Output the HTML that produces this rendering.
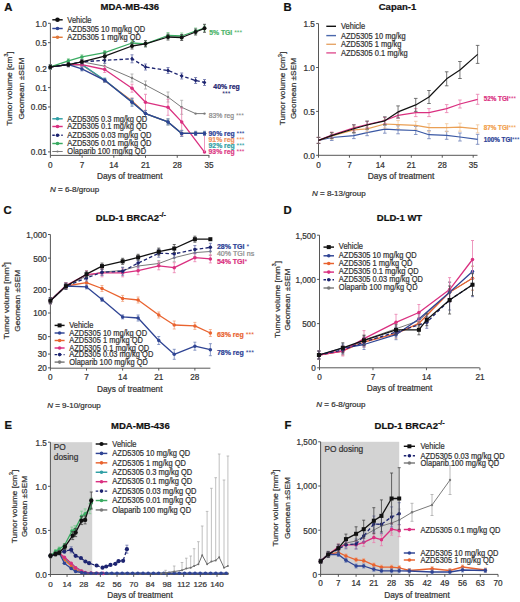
<!DOCTYPE html><html><head><meta charset="utf-8"><style>html,body{margin:0;padding:0;background:#fff;}svg{display:block;}</style></head><body>
<svg width="520" height="602" viewBox="0 0 520 602" font-family='"Liberation Sans", sans-serif'>
<rect width="520" height="602" fill="#fff"/>
<text x="4.20" y="11.10" font-size="11.3" text-anchor="start" font-weight="bold" fill="#111" stroke="#111" stroke-width="0.22" >A</text>
<text x="283.50" y="10.80" font-size="11.3" text-anchor="start" font-weight="bold" fill="#111" stroke="#111" stroke-width="0.22" >B</text>
<text x="3.50" y="214.40" font-size="11.3" text-anchor="start" font-weight="bold" fill="#111" stroke="#111" stroke-width="0.22" >C</text>
<text x="283.50" y="214.40" font-size="11.3" text-anchor="start" font-weight="bold" fill="#111" stroke="#111" stroke-width="0.22" >D</text>
<text x="4.50" y="428.50" font-size="11.3" text-anchor="start" font-weight="bold" fill="#111" stroke="#111" stroke-width="0.22" >E</text>
<text x="284.50" y="428.50" font-size="11.3" text-anchor="start" font-weight="bold" fill="#111" stroke="#111" stroke-width="0.22" >F</text>
<text x="129.80" y="10.40" font-size="9.5" text-anchor="middle" font-weight="bold" fill="#111" stroke="#111" stroke-width="0.22" >MDA-MB-436</text>
<text x="397.50" y="10.40" font-size="9.5" text-anchor="middle" font-weight="bold" fill="#111" stroke="#111" stroke-width="0.22" >Capan-1</text>
<text x="95.8" y="221.2" font-size="9.5" font-weight="bold" fill="#111" stroke="#111" stroke-width="0.22">DLD-1 BRCA2<tspan font-size="7.2" dy="-4.2">-/-</tspan></text>
<text x="399.50" y="221.20" font-size="9.5" text-anchor="middle" font-weight="bold" fill="#111" stroke="#111" stroke-width="0.22" >DLD-1 WT</text>
<text x="140.40" y="428.60" font-size="9.5" text-anchor="middle" font-weight="bold" fill="#111" stroke="#111" stroke-width="0.22" >MDA-MB-436</text>
<text x="374.6" y="428.8" font-size="9.5" font-weight="bold" fill="#111" stroke="#111" stroke-width="0.22">DLD-1 BRCA2<tspan font-size="7.2" dy="-4.2">-/-</tspan></text>
<text transform="translate(12.00,88.50) rotate(-90) scale(1.06,1)" font-size="7.925" text-anchor="middle" fill="#333" stroke="#333" stroke-width="0.22">Tumor volume [cm<tspan font-size="4.91" dy="-3.6">3</tspan><tspan dy="3.6">]</tspan></text>
<text transform="translate(23.50,88.50) rotate(-90) scale(1.06,1)" font-size="7.925" text-anchor="middle" fill="#333" stroke="#333" stroke-width="0.22">Geomean ±SEM</text>
<line x1="50.40" y1="23.30" x2="50.40" y2="155.40" stroke="#444444" stroke-width="0.9" />
<line x1="48.00" y1="23.30" x2="50.40" y2="23.30" stroke="#444444" stroke-width="0.9" />
<text x="46.80" y="26.70" font-size="8.2" text-anchor="end" font-weight="normal" fill="#333" stroke="#333" stroke-width="0.22" >1.0</text>
<line x1="48.00" y1="42.66" x2="50.40" y2="42.66" stroke="#444444" stroke-width="0.9" />
<text x="46.80" y="46.06" font-size="8.2" text-anchor="end" font-weight="normal" fill="#333" stroke="#333" stroke-width="0.22" >0.5</text>
<line x1="48.00" y1="68.24" x2="50.40" y2="68.24" stroke="#444444" stroke-width="0.9" />
<text x="46.80" y="71.64" font-size="8.2" text-anchor="end" font-weight="normal" fill="#333" stroke="#333" stroke-width="0.22" >0.2</text>
<line x1="48.00" y1="87.60" x2="50.40" y2="87.60" stroke="#444444" stroke-width="0.9" />
<text x="46.80" y="91.00" font-size="8.2" text-anchor="end" font-weight="normal" fill="#333" stroke="#333" stroke-width="0.22" >0.1</text>
<line x1="48.00" y1="106.96" x2="50.40" y2="106.96" stroke="#444444" stroke-width="0.9" />
<text x="46.80" y="110.36" font-size="8.2" text-anchor="end" font-weight="normal" fill="#333" stroke="#333" stroke-width="0.22" >0.05</text>
<line x1="48.00" y1="151.90" x2="50.40" y2="151.90" stroke="#444444" stroke-width="0.9" />
<text x="46.80" y="155.30" font-size="8.2" text-anchor="end" font-weight="normal" fill="#333" stroke="#333" stroke-width="0.22" >0.01</text>
<line x1="50.40" y1="155.40" x2="209.40" y2="155.40" stroke="#444444" stroke-width="0.9" />
<line x1="50.40" y1="155.40" x2="50.40" y2="157.80" stroke="#444444" stroke-width="0.9" />
<text x="50.40" y="167.80" font-size="8.2" text-anchor="middle" font-weight="normal" fill="#333" stroke="#333" stroke-width="0.22" >0</text>
<line x1="82.11" y1="155.40" x2="82.11" y2="157.80" stroke="#444444" stroke-width="0.9" />
<text x="82.11" y="167.80" font-size="8.2" text-anchor="middle" font-weight="normal" fill="#333" stroke="#333" stroke-width="0.22" >7</text>
<line x1="113.82" y1="155.40" x2="113.82" y2="157.80" stroke="#444444" stroke-width="0.9" />
<text x="113.82" y="167.80" font-size="8.2" text-anchor="middle" font-weight="normal" fill="#333" stroke="#333" stroke-width="0.22" >14</text>
<line x1="145.53" y1="155.40" x2="145.53" y2="157.80" stroke="#444444" stroke-width="0.9" />
<text x="145.53" y="167.80" font-size="8.2" text-anchor="middle" font-weight="normal" fill="#333" stroke="#333" stroke-width="0.22" >21</text>
<line x1="177.24" y1="155.40" x2="177.24" y2="157.80" stroke="#444444" stroke-width="0.9" />
<text x="177.24" y="167.80" font-size="8.2" text-anchor="middle" font-weight="normal" fill="#333" stroke="#333" stroke-width="0.22" >28</text>
<line x1="208.95" y1="155.40" x2="208.95" y2="157.80" stroke="#444444" stroke-width="0.9" />
<text x="208.95" y="167.80" font-size="8.2" text-anchor="middle" font-weight="normal" fill="#333" stroke="#333" stroke-width="0.22" >35</text>
<text x="129.70" y="178.80" font-size="8.3" text-anchor="middle" font-weight="normal" fill="#333" stroke="#333" stroke-width="0.22" >Days of treatment</text>
<text x="50" y="192" font-size="8" fill="#333" stroke="#333" stroke-width="0.22"><tspan font-style="italic">N</tspan> = 6-8/group</text>
<path d="M50.40 64.90 V68.90 M48.90 64.90 H51.90 M48.90 68.90 H51.90" stroke="#f3a27c" stroke-width="0.8" fill="none"/>
<path d="M68.40 62.60 V66.60 M66.90 62.60 H69.90 M66.90 66.60 H69.90" stroke="#f3a27c" stroke-width="0.8" fill="none"/>
<path d="M81.90 62.60 V66.60 M80.40 62.60 H83.40 M80.40 66.60 H83.40" stroke="#f3a27c" stroke-width="0.8" fill="none"/>
<path d="M104.70 78.50 V82.50 M103.20 78.50 H106.20 M103.20 82.50 H106.20" stroke="#f3a27c" stroke-width="0.8" fill="none"/>
<path d="M132.00 98.00 V104.00 M130.50 98.00 H133.50 M130.50 104.00 H133.50" stroke="#f3a27c" stroke-width="0.8" fill="none"/>
<path d="M145.50 110.60 V116.60 M144.00 110.60 H147.00 M144.00 116.60 H147.00" stroke="#f3a27c" stroke-width="0.8" fill="none"/>
<path d="M168.00 118.90 V124.90 M166.50 118.90 H169.50 M166.50 124.90 H169.50" stroke="#f3a27c" stroke-width="0.8" fill="none"/>
<path d="M181.70 130.40 V136.40 M180.20 130.40 H183.20 M180.20 136.40 H183.20" stroke="#f3a27c" stroke-width="0.8" fill="none"/>
<path d="M195.60 131.40 V135.40 M194.10 131.40 H197.10 M194.10 135.40 H197.10" stroke="#f3a27c" stroke-width="0.8" fill="none"/>
<path d="M204.50 131.40 V135.40 M203.00 131.40 H206.00 M203.00 135.40 H206.00" stroke="#f3a27c" stroke-width="0.8" fill="none"/>
<polyline points="50.40,66.90 68.40,64.60 81.90,64.60 104.70,80.50 132.00,101.00 145.50,113.60 168.00,121.90 181.70,133.40 195.60,133.40 204.50,133.40" fill="none" stroke="#e9632f" stroke-width="1.3" stroke-linejoin="round" />
<circle cx="50.40" cy="66.90" r="1.75" fill="#e9632f"/>
<circle cx="68.40" cy="64.60" r="1.75" fill="#e9632f"/>
<circle cx="81.90" cy="64.60" r="1.75" fill="#e9632f"/>
<circle cx="104.70" cy="80.50" r="1.75" fill="#e9632f"/>
<circle cx="132.00" cy="101.00" r="1.75" fill="#e9632f"/>
<circle cx="145.50" cy="113.60" r="1.75" fill="#e9632f"/>
<circle cx="168.00" cy="121.90" r="1.75" fill="#e9632f"/>
<circle cx="181.70" cy="133.40" r="1.75" fill="#e9632f"/>
<circle cx="195.60" cy="133.40" r="1.75" fill="#e9632f"/>
<circle cx="204.50" cy="133.40" r="1.75" fill="#e9632f"/>
<path d="M50.40 64.90 V68.90 M48.90 64.90 H51.90 M48.90 68.90 H51.90" stroke="#7cc6cc" stroke-width="0.8" fill="none"/>
<path d="M68.40 62.60 V66.60 M66.90 62.60 H69.90 M66.90 66.60 H69.90" stroke="#7cc6cc" stroke-width="0.8" fill="none"/>
<path d="M81.90 62.60 V66.60 M80.40 62.60 H83.40 M80.40 66.60 H83.40" stroke="#7cc6cc" stroke-width="0.8" fill="none"/>
<path d="M104.70 78.00 V82.00 M103.20 78.00 H106.20 M103.20 82.00 H106.20" stroke="#7cc6cc" stroke-width="0.8" fill="none"/>
<path d="M132.00 99.00 V105.00 M130.50 99.00 H133.50 M130.50 105.00 H133.50" stroke="#7cc6cc" stroke-width="0.8" fill="none"/>
<path d="M145.50 110.60 V116.60 M144.00 110.60 H147.00 M144.00 116.60 H147.00" stroke="#7cc6cc" stroke-width="0.8" fill="none"/>
<path d="M168.00 118.90 V124.90 M166.50 118.90 H169.50 M166.50 124.90 H169.50" stroke="#7cc6cc" stroke-width="0.8" fill="none"/>
<path d="M181.70 130.40 V136.40 M180.20 130.40 H183.20 M180.20 136.40 H183.20" stroke="#7cc6cc" stroke-width="0.8" fill="none"/>
<path d="M195.60 131.40 V135.40 M194.10 131.40 H197.10 M194.10 135.40 H197.10" stroke="#7cc6cc" stroke-width="0.8" fill="none"/>
<path d="M204.50 131.40 V135.40 M203.00 131.40 H206.00 M203.00 135.40 H206.00" stroke="#7cc6cc" stroke-width="0.8" fill="none"/>
<polyline points="50.40,66.90 68.40,64.60 81.90,64.60 104.70,80.00 132.00,102.00 145.50,113.60 168.00,121.90 181.70,133.40 195.60,133.40 204.50,133.40" fill="none" stroke="#2f9fa5" stroke-width="1.3" stroke-linejoin="round" />
<circle cx="50.40" cy="66.90" r="1.75" fill="#2f9fa5"/>
<circle cx="68.40" cy="64.60" r="1.75" fill="#2f9fa5"/>
<circle cx="81.90" cy="64.60" r="1.75" fill="#2f9fa5"/>
<circle cx="104.70" cy="80.00" r="1.75" fill="#2f9fa5"/>
<circle cx="132.00" cy="102.00" r="1.75" fill="#2f9fa5"/>
<circle cx="145.50" cy="113.60" r="1.75" fill="#2f9fa5"/>
<circle cx="168.00" cy="121.90" r="1.75" fill="#2f9fa5"/>
<circle cx="181.70" cy="133.40" r="1.75" fill="#2f9fa5"/>
<circle cx="195.60" cy="133.40" r="1.75" fill="#2f9fa5"/>
<circle cx="204.50" cy="133.40" r="1.75" fill="#2f9fa5"/>
<path d="M50.40 64.90 V68.90 M48.90 64.90 H51.90 M48.90 68.90 H51.90" stroke="#a8a8a8" stroke-width="0.8" fill="none"/>
<path d="M68.40 62.60 V66.60 M66.90 62.60 H69.90 M66.90 66.60 H69.90" stroke="#a8a8a8" stroke-width="0.8" fill="none"/>
<path d="M81.90 59.80 V63.80 M80.40 59.80 H83.40 M80.40 63.80 H83.40" stroke="#a8a8a8" stroke-width="0.8" fill="none"/>
<path d="M104.70 63.20 V69.20 M103.20 63.20 H106.20 M103.20 69.20 H106.20" stroke="#a8a8a8" stroke-width="0.8" fill="none"/>
<path d="M132.00 74.00 V82.00 M130.50 74.00 H133.50 M130.50 82.00 H133.50" stroke="#a8a8a8" stroke-width="0.8" fill="none"/>
<path d="M145.50 81.00 V89.00 M144.00 81.00 H147.00 M144.00 89.00 H147.00" stroke="#a8a8a8" stroke-width="0.8" fill="none"/>
<path d="M168.00 92.00 V102.00 M166.50 92.00 H169.50 M166.50 102.00 H169.50" stroke="#a8a8a8" stroke-width="0.8" fill="none"/>
<path d="M181.70 100.30 V114.30 M180.20 100.30 H183.20 M180.20 114.30 H183.20" stroke="#a8a8a8" stroke-width="0.8" fill="none"/>
<polyline points="50.40,66.90 68.40,64.60 81.90,61.80 104.70,66.20 132.00,78.00 145.50,85.00 168.00,97.00 181.70,107.30 195.60,113.60 204.50,113.60" fill="none" stroke="#7a7a7a" stroke-width="1.0" stroke-linejoin="round" />
<circle cx="50.40" cy="66.90" r="1.2" fill="#7a7a7a"/>
<circle cx="68.40" cy="64.60" r="1.2" fill="#7a7a7a"/>
<circle cx="81.90" cy="61.80" r="1.2" fill="#7a7a7a"/>
<circle cx="104.70" cy="66.20" r="1.2" fill="#7a7a7a"/>
<circle cx="132.00" cy="78.00" r="1.2" fill="#7a7a7a"/>
<circle cx="145.50" cy="85.00" r="1.2" fill="#7a7a7a"/>
<circle cx="168.00" cy="97.00" r="1.2" fill="#7a7a7a"/>
<circle cx="181.70" cy="107.30" r="1.2" fill="#7a7a7a"/>
<circle cx="195.60" cy="113.60" r="1.2" fill="#7a7a7a"/>
<circle cx="204.50" cy="113.60" r="1.2" fill="#7a7a7a"/>
<path d="M50.40 64.90 V68.90 M48.90 64.90 H51.90 M48.90 68.90 H51.90" stroke="#ea7fae" stroke-width="0.8" fill="none"/>
<path d="M68.40 62.60 V66.60 M66.90 62.60 H69.90 M66.90 66.60 H69.90" stroke="#ea7fae" stroke-width="0.8" fill="none"/>
<path d="M81.90 62.60 V66.60 M80.40 62.60 H83.40 M80.40 66.60 H83.40" stroke="#ea7fae" stroke-width="0.8" fill="none"/>
<path d="M104.70 66.50 V72.50 M103.20 66.50 H106.20 M103.20 72.50 H106.20" stroke="#ea7fae" stroke-width="0.8" fill="none"/>
<path d="M132.00 84.20 V92.20 M130.50 84.20 H133.50 M130.50 92.20 H133.50" stroke="#ea7fae" stroke-width="0.8" fill="none"/>
<path d="M145.50 94.30 V110.30 M144.00 94.30 H147.00 M144.00 110.30 H147.00" stroke="#ea7fae" stroke-width="0.8" fill="none"/>
<path d="M168.00 99.30 V115.30 M166.50 99.30 H169.50 M166.50 115.30 H169.50" stroke="#ea7fae" stroke-width="0.8" fill="none"/>
<path d="M181.70 107.90 V135.90 M180.20 107.90 H183.20 M180.20 135.90 H183.20" stroke="#ea7fae" stroke-width="0.8" fill="none"/>
<polyline points="50.40,66.90 68.40,64.60 81.90,64.60 104.70,69.50 132.00,88.20 145.50,102.30 168.00,107.30 181.70,121.90 204.50,152.10" fill="none" stroke="#da3080" stroke-width="1.3" stroke-linejoin="round" />
<circle cx="50.40" cy="66.90" r="1.75" fill="#da3080"/>
<circle cx="68.40" cy="64.60" r="1.75" fill="#da3080"/>
<circle cx="81.90" cy="64.60" r="1.75" fill="#da3080"/>
<circle cx="104.70" cy="69.50" r="1.75" fill="#da3080"/>
<circle cx="132.00" cy="88.20" r="1.75" fill="#da3080"/>
<circle cx="145.50" cy="102.30" r="1.75" fill="#da3080"/>
<circle cx="168.00" cy="107.30" r="1.75" fill="#da3080"/>
<circle cx="181.70" cy="121.90" r="1.75" fill="#da3080"/>
<circle cx="204.50" cy="152.10" r="1.75" fill="#da3080"/>
<path d="M204.5 152.1 V133.4" stroke="#ea7fae" stroke-width="0.8"/>
<path d="M50.40 64.90 V68.90 M48.90 64.90 H51.90 M48.90 68.90 H51.90" stroke="#6d80b8" stroke-width="0.8" fill="none"/>
<path d="M68.40 62.60 V66.60 M66.90 62.60 H69.90 M66.90 66.60 H69.90" stroke="#6d80b8" stroke-width="0.8" fill="none"/>
<path d="M81.90 66.90 V70.90 M80.40 66.90 H83.40 M80.40 70.90 H83.40" stroke="#6d80b8" stroke-width="0.8" fill="none"/>
<path d="M104.70 78.30 V82.30 M103.20 78.30 H106.20 M103.20 82.30 H106.20" stroke="#6d80b8" stroke-width="0.8" fill="none"/>
<path d="M132.00 98.30 V106.30 M130.50 98.30 H133.50 M130.50 106.30 H133.50" stroke="#6d80b8" stroke-width="0.8" fill="none"/>
<path d="M145.50 110.60 V116.60 M144.00 110.60 H147.00 M144.00 116.60 H147.00" stroke="#6d80b8" stroke-width="0.8" fill="none"/>
<path d="M168.00 118.90 V124.90 M166.50 118.90 H169.50 M166.50 124.90 H169.50" stroke="#6d80b8" stroke-width="0.8" fill="none"/>
<path d="M181.70 130.40 V136.40 M180.20 130.40 H183.20 M180.20 136.40 H183.20" stroke="#6d80b8" stroke-width="0.8" fill="none"/>
<path d="M195.60 131.40 V135.40 M194.10 131.40 H197.10 M194.10 135.40 H197.10" stroke="#6d80b8" stroke-width="0.8" fill="none"/>
<path d="M204.50 131.40 V135.40 M203.00 131.40 H206.00 M203.00 135.40 H206.00" stroke="#6d80b8" stroke-width="0.8" fill="none"/>
<polyline points="50.40,66.90 68.40,64.60 81.90,68.90 104.70,80.30 132.00,102.30 145.50,113.60 168.00,121.90 181.70,133.40 195.60,133.40 204.50,133.40" fill="none" stroke="#2f4494" stroke-width="1.3" stroke-linejoin="round" />
<circle cx="50.40" cy="66.90" r="1.75" fill="#2f4494"/>
<circle cx="68.40" cy="64.60" r="1.75" fill="#2f4494"/>
<circle cx="81.90" cy="68.90" r="1.75" fill="#2f4494"/>
<circle cx="104.70" cy="80.30" r="1.75" fill="#2f4494"/>
<circle cx="132.00" cy="102.30" r="1.75" fill="#2f4494"/>
<circle cx="145.50" cy="113.60" r="1.75" fill="#2f4494"/>
<circle cx="168.00" cy="121.90" r="1.75" fill="#2f4494"/>
<circle cx="181.70" cy="133.40" r="1.75" fill="#2f4494"/>
<circle cx="195.60" cy="133.40" r="1.75" fill="#2f4494"/>
<circle cx="204.50" cy="133.40" r="1.75" fill="#2f4494"/>
<path d="M50.40 64.90 V68.90 M48.90 64.90 H51.90 M48.90 68.90 H51.90" stroke="#6870a8" stroke-width="0.8" fill="none"/>
<path d="M68.40 62.60 V66.60 M66.90 62.60 H69.90 M66.90 66.60 H69.90" stroke="#6870a8" stroke-width="0.8" fill="none"/>
<path d="M81.90 59.80 V63.80 M80.40 59.80 H83.40 M80.40 63.80 H83.40" stroke="#6870a8" stroke-width="0.8" fill="none"/>
<path d="M104.70 57.30 V63.30 M103.20 57.30 H106.20 M103.20 63.30 H106.20" stroke="#6870a8" stroke-width="0.8" fill="none"/>
<path d="M132.00 54.80 V62.80 M130.50 54.80 H133.50 M130.50 62.80 H133.50" stroke="#6870a8" stroke-width="0.8" fill="none"/>
<path d="M145.50 64.00 V70.00 M144.00 64.00 H147.00 M144.00 70.00 H147.00" stroke="#6870a8" stroke-width="0.8" fill="none"/>
<path d="M168.00 67.50 V73.50 M166.50 67.50 H169.50 M166.50 73.50 H169.50" stroke="#6870a8" stroke-width="0.8" fill="none"/>
<path d="M181.70 73.00 V79.00 M180.20 73.00 H183.20 M180.20 79.00 H183.20" stroke="#6870a8" stroke-width="0.8" fill="none"/>
<path d="M195.60 77.50 V83.50 M194.10 77.50 H197.10 M194.10 83.50 H197.10" stroke="#6870a8" stroke-width="0.8" fill="none"/>
<path d="M204.50 79.50 V85.50 M203.00 79.50 H206.00 M203.00 85.50 H206.00" stroke="#6870a8" stroke-width="0.8" fill="none"/>
<polyline points="50.40,66.90 68.40,64.60 81.90,61.80 104.70,60.30 132.00,58.80 145.50,67.00 168.00,70.50 181.70,76.00 195.60,80.50 204.50,82.50" fill="none" stroke="#1d2470" stroke-width="1.3" stroke-linejoin="round" stroke-dasharray="3.5,2.3"/>
<path d="M50.40 64.56 L52.20 66.90 L50.40 69.24 L48.60 66.90Z" fill="#1d2470"/>
<path d="M68.40 62.26 L70.20 64.60 L68.40 66.94 L66.60 64.60Z" fill="#1d2470"/>
<path d="M81.90 59.46 L83.70 61.80 L81.90 64.14 L80.10 61.80Z" fill="#1d2470"/>
<path d="M104.70 57.96 L106.50 60.30 L104.70 62.64 L102.90 60.30Z" fill="#1d2470"/>
<path d="M132.00 56.46 L133.80 58.80 L132.00 61.14 L130.20 58.80Z" fill="#1d2470"/>
<path d="M145.50 64.66 L147.30 67.00 L145.50 69.34 L143.70 67.00Z" fill="#1d2470"/>
<path d="M168.00 68.16 L169.80 70.50 L168.00 72.84 L166.20 70.50Z" fill="#1d2470"/>
<path d="M181.70 73.66 L183.50 76.00 L181.70 78.34 L179.90 76.00Z" fill="#1d2470"/>
<path d="M195.60 78.16 L197.40 80.50 L195.60 82.84 L193.80 80.50Z" fill="#1d2470"/>
<path d="M204.50 80.16 L206.30 82.50 L204.50 84.84 L202.70 82.50Z" fill="#1d2470"/>
<path d="M50.40 64.90 V68.90 M48.90 64.90 H51.90 M48.90 68.90 H51.90" stroke="#7ccb8f" stroke-width="0.8" fill="none"/>
<path d="M68.40 58.80 V62.80 M66.90 58.80 H69.90 M66.90 62.80 H69.90" stroke="#7ccb8f" stroke-width="0.8" fill="none"/>
<path d="M81.90 54.90 V58.90 M80.40 54.90 H83.40 M80.40 58.90 H83.40" stroke="#7ccb8f" stroke-width="0.8" fill="none"/>
<path d="M104.70 50.60 V54.60 M103.20 50.60 H106.20 M103.20 54.60 H106.20" stroke="#7ccb8f" stroke-width="0.8" fill="none"/>
<path d="M132.00 40.00 V46.00 M130.50 40.00 H133.50 M130.50 46.00 H133.50" stroke="#7ccb8f" stroke-width="0.8" fill="none"/>
<path d="M145.50 40.80 V46.80 M144.00 40.80 H147.00 M144.00 46.80 H147.00" stroke="#7ccb8f" stroke-width="0.8" fill="none"/>
<path d="M168.00 32.50 V38.50 M166.50 32.50 H169.50 M166.50 38.50 H169.50" stroke="#7ccb8f" stroke-width="0.8" fill="none"/>
<path d="M181.70 33.00 V39.00 M180.20 33.00 H183.20 M180.20 39.00 H183.20" stroke="#7ccb8f" stroke-width="0.8" fill="none"/>
<path d="M195.60 28.00 V34.00 M194.10 28.00 H197.10 M194.10 34.00 H197.10" stroke="#7ccb8f" stroke-width="0.8" fill="none"/>
<path d="M204.50 25.00 V31.00 M203.00 25.00 H206.00 M203.00 31.00 H206.00" stroke="#7ccb8f" stroke-width="0.8" fill="none"/>
<polyline points="50.40,66.90 68.40,60.80 81.90,56.90 104.70,52.60 132.00,43.00 145.50,43.80 168.00,35.50 181.70,36.00 195.60,31.00 204.50,28.00" fill="none" stroke="#3aab62" stroke-width="1.3" stroke-linejoin="round" />
<circle cx="50.40" cy="66.90" r="1.75" fill="#3aab62"/>
<circle cx="68.40" cy="60.80" r="1.75" fill="#3aab62"/>
<circle cx="81.90" cy="56.90" r="1.75" fill="#3aab62"/>
<circle cx="104.70" cy="52.60" r="1.75" fill="#3aab62"/>
<circle cx="132.00" cy="43.00" r="1.75" fill="#3aab62"/>
<circle cx="145.50" cy="43.80" r="1.75" fill="#3aab62"/>
<circle cx="168.00" cy="35.50" r="1.75" fill="#3aab62"/>
<circle cx="181.70" cy="36.00" r="1.75" fill="#3aab62"/>
<circle cx="195.60" cy="31.00" r="1.75" fill="#3aab62"/>
<circle cx="204.50" cy="28.00" r="1.75" fill="#3aab62"/>
<path d="M50.40 64.90 V68.90 M48.90 64.90 H51.90 M48.90 68.90 H51.90" stroke="#444444" stroke-width="0.8" fill="none"/>
<path d="M68.40 62.60 V66.60 M66.90 62.60 H69.90 M66.90 66.60 H69.90" stroke="#444444" stroke-width="0.8" fill="none"/>
<path d="M81.90 59.80 V63.80 M80.40 59.80 H83.40 M80.40 63.80 H83.40" stroke="#444444" stroke-width="0.8" fill="none"/>
<path d="M104.70 53.20 V59.20 M103.20 53.20 H106.20 M103.20 59.20 H106.20" stroke="#444444" stroke-width="0.8" fill="none"/>
<path d="M132.00 43.00 V49.00 M130.50 43.00 H133.50 M130.50 49.00 H133.50" stroke="#444444" stroke-width="0.8" fill="none"/>
<path d="M145.50 40.80 V46.80 M144.00 40.80 H147.00 M144.00 46.80 H147.00" stroke="#444444" stroke-width="0.8" fill="none"/>
<path d="M168.00 34.00 V40.00 M166.50 34.00 H169.50 M166.50 40.00 H169.50" stroke="#444444" stroke-width="0.8" fill="none"/>
<path d="M181.70 34.50 V40.50 M180.20 34.50 H183.20 M180.20 40.50 H183.20" stroke="#444444" stroke-width="0.8" fill="none"/>
<path d="M195.60 29.00 V35.00 M194.10 29.00 H197.10 M194.10 35.00 H197.10" stroke="#444444" stroke-width="0.8" fill="none"/>
<path d="M204.50 24.30 V32.30 M203.00 24.30 H206.00 M203.00 32.30 H206.00" stroke="#444444" stroke-width="0.8" fill="none"/>
<polyline points="50.40,66.90 68.40,64.60 81.90,61.80 104.70,56.20 132.00,46.00 145.50,43.80 168.00,37.00 181.70,37.50 195.60,32.00 204.50,28.30" fill="none" stroke="#111111" stroke-width="1.3" stroke-linejoin="round" />
<circle cx="50.40" cy="66.90" r="2" fill="#111111"/>
<circle cx="68.40" cy="64.60" r="2" fill="#111111"/>
<circle cx="81.90" cy="61.80" r="2" fill="#111111"/>
<circle cx="104.70" cy="56.20" r="2" fill="#111111"/>
<circle cx="132.00" cy="46.00" r="2" fill="#111111"/>
<circle cx="145.50" cy="43.80" r="2" fill="#111111"/>
<circle cx="168.00" cy="37.00" r="2" fill="#111111"/>
<circle cx="181.70" cy="37.50" r="2" fill="#111111"/>
<circle cx="195.60" cy="32.00" r="2" fill="#111111"/>
<circle cx="204.50" cy="28.30" r="2" fill="#111111"/>
<line x1="52.30" y1="19.80" x2="62.70" y2="19.80" stroke="#111111" stroke-width="1.45" />
<circle cx="57.50" cy="19.80" r="2.3" fill="#111111"/>
<text transform="translate(67.30,22.90) scale(0.92,1)" font-size="8.152" text-anchor="start" font-weight="normal" fill="#333" stroke="#333" stroke-width="0.22" >Vehicle</text>
<line x1="52.30" y1="28.50" x2="62.70" y2="28.50" stroke="#2f4494" stroke-width="1.45" />
<circle cx="57.50" cy="28.50" r="1.8" fill="#2f4494"/>
<text transform="translate(67.30,31.60) scale(0.92,1)" font-size="8.152" text-anchor="start" font-weight="normal" fill="#333" stroke="#333" stroke-width="0.22" >AZD5305 10 mg/kg QD</text>
<line x1="52.30" y1="37.30" x2="62.70" y2="37.30" stroke="#e0783a" stroke-width="1.45" />
<circle cx="57.50" cy="37.30" r="1.8" fill="#e0783a"/>
<text transform="translate(67.30,40.40) scale(0.92,1)" font-size="8.152" text-anchor="start" font-weight="normal" fill="#333" stroke="#333" stroke-width="0.22" >AZD5305 1 mg/kg QD</text>
<line x1="52.30" y1="118.80" x2="62.70" y2="118.80" stroke="#2f9fa5" stroke-width="1.45" />
<circle cx="57.50" cy="118.80" r="1.8" fill="#2f9fa5"/>
<text transform="translate(67.30,121.70) scale(0.92,1)" font-size="8.152" text-anchor="start" font-weight="normal" fill="#333" stroke="#333" stroke-width="0.22" >AZD5305 0.3 mg/kg QD</text>
<line x1="52.30" y1="126.50" x2="62.70" y2="126.50" stroke="#da3080" stroke-width="1.45" />
<circle cx="57.50" cy="126.50" r="1.8" fill="#da3080"/>
<text transform="translate(67.30,129.40) scale(0.92,1)" font-size="8.152" text-anchor="start" font-weight="normal" fill="#333" stroke="#333" stroke-width="0.22" >AZD5305 0.1 mg/kg QD</text>
<line x1="52.30" y1="135.20" x2="62.70" y2="135.20" stroke="#1d2470" stroke-width="1.45" stroke-dasharray="2.5,2"/>
<circle cx="57.50" cy="135.20" r="1.8" fill="#1d2470"/>
<text transform="translate(67.30,138.10) scale(0.92,1)" font-size="8.152" text-anchor="start" font-weight="normal" fill="#333" stroke="#333" stroke-width="0.22" >AZD5305 0.03 mg/kg QD</text>
<line x1="52.30" y1="143.50" x2="62.70" y2="143.50" stroke="#3aab62" stroke-width="1.45" />
<circle cx="57.50" cy="143.50" r="1.8" fill="#3aab62"/>
<text transform="translate(67.30,146.40) scale(0.92,1)" font-size="8.152" text-anchor="start" font-weight="normal" fill="#333" stroke="#333" stroke-width="0.22" >AZD5305 0.01 mg/kg QD</text>
<line x1="52.30" y1="151.50" x2="62.70" y2="151.50" stroke="#7a7a7a" stroke-width="1.0" />
<circle cx="57.50" cy="151.50" r="1.1" fill="#7a7a7a"/>
<text transform="translate(67.30,154.40) scale(0.92,1)" font-size="8.152" text-anchor="start" font-weight="normal" fill="#333" stroke="#333" stroke-width="0.22" >Olaparib 100 mg/kg QD</text>
<text x="209.20" y="35.20" font-size="6.8" text-anchor="start" font-weight="bold" fill="#4cb46a" stroke="#4cb46a" stroke-width="0.22">5% TGI <tspan font-weight="normal" stroke-width="0" fill="#4cb46a"> ***</tspan></text>
<text x="213.30" y="88.60" font-size="6.9" text-anchor="start" font-weight="bold" fill="#1d2470" stroke="#1d2470" stroke-width="0.22" >40% reg</text>
<text x="226.30" y="95.50" font-size="6.9" text-anchor="middle" font-weight="bold" fill="#1d2470" stroke="#1d2470" stroke-width="0.22"><tspan font-weight="normal" stroke-width="0" fill="#1d2470">***</tspan></text>
<text x="208.70" y="118.30" font-size="6.8" text-anchor="start" font-weight="normal" fill="#8a8a8a" stroke="#8a8a8a" stroke-width="0.22">83% reg <tspan font-weight="normal" stroke-width="0" fill="#8a8a8a">***</tspan></text>
<text x="208.60" y="135.60" font-size="6.8" text-anchor="start" font-weight="bold" fill="#2c3f96" stroke="#2c3f96" stroke-width="0.22">90% reg <tspan font-weight="normal" stroke-width="0" fill="#2c3f96"> ***</tspan></text>
<text x="208.60" y="141.70" font-size="6.8" text-anchor="start" font-weight="bold" fill="#f09060" stroke="#f09060" stroke-width="0.22">91% reg <tspan font-weight="normal" stroke-width="0" fill="#f09060"> ***</tspan></text>
<text x="208.60" y="147.50" font-size="6.8" text-anchor="start" font-weight="bold" fill="#2f9fa5" stroke="#2f9fa5" stroke-width="0.22">92% reg <tspan font-weight="normal" stroke-width="0" fill="#2f9fa5"> ***</tspan></text>
<text x="208.60" y="153.80" font-size="6.8" text-anchor="start" font-weight="bold" fill="#dc3a84" stroke="#dc3a84" stroke-width="0.22">93% reg <tspan font-weight="normal" stroke-width="0" fill="#dc3a84"> ***</tspan></text>
<text transform="translate(285.20,88.50) rotate(-90) scale(1.06,1)" font-size="7.830" text-anchor="middle" fill="#333" stroke="#333" stroke-width="0.22">Tumor volume [cm<tspan font-size="4.85" dy="-3.6">3</tspan><tspan dy="3.6">]</tspan></text>
<text transform="translate(296.20,88.50) rotate(-90) scale(1.06,1)" font-size="7.830" text-anchor="middle" fill="#333" stroke="#333" stroke-width="0.22">Geomean ±SEM</text>
<line x1="318.50" y1="23.60" x2="318.50" y2="155.30" stroke="#444444" stroke-width="0.9" />
<line x1="316.10" y1="23.60" x2="318.50" y2="23.60" stroke="#444444" stroke-width="0.9" />
<text x="314.90" y="27.00" font-size="8.2" text-anchor="end" font-weight="normal" fill="#333" stroke="#333" stroke-width="0.22" >1.5</text>
<line x1="316.10" y1="67.50" x2="318.50" y2="67.50" stroke="#444444" stroke-width="0.9" />
<text x="314.90" y="70.90" font-size="8.2" text-anchor="end" font-weight="normal" fill="#333" stroke="#333" stroke-width="0.22" >1.0</text>
<line x1="316.10" y1="111.40" x2="318.50" y2="111.40" stroke="#444444" stroke-width="0.9" />
<text x="314.90" y="114.80" font-size="8.2" text-anchor="end" font-weight="normal" fill="#333" stroke="#333" stroke-width="0.22" >0.5</text>
<line x1="316.10" y1="155.30" x2="318.50" y2="155.30" stroke="#444444" stroke-width="0.9" />
<text x="314.90" y="158.70" font-size="8.2" text-anchor="end" font-weight="normal" fill="#333" stroke="#333" stroke-width="0.22" >0.0</text>
<line x1="318.50" y1="155.30" x2="477.50" y2="155.30" stroke="#444444" stroke-width="0.9" />
<line x1="318.50" y1="155.30" x2="318.50" y2="157.70" stroke="#444444" stroke-width="0.9" />
<text x="318.50" y="167.80" font-size="8.2" text-anchor="middle" font-weight="normal" fill="#333" stroke="#333" stroke-width="0.22" >0</text>
<line x1="349.44" y1="155.30" x2="349.44" y2="157.70" stroke="#444444" stroke-width="0.9" />
<text x="349.44" y="167.80" font-size="8.2" text-anchor="middle" font-weight="normal" fill="#333" stroke="#333" stroke-width="0.22" >7</text>
<line x1="380.38" y1="155.30" x2="380.38" y2="157.70" stroke="#444444" stroke-width="0.9" />
<text x="380.38" y="167.80" font-size="8.2" text-anchor="middle" font-weight="normal" fill="#333" stroke="#333" stroke-width="0.22" >14</text>
<line x1="411.32" y1="155.30" x2="411.32" y2="157.70" stroke="#444444" stroke-width="0.9" />
<text x="411.32" y="167.80" font-size="8.2" text-anchor="middle" font-weight="normal" fill="#333" stroke="#333" stroke-width="0.22" >21</text>
<line x1="442.26" y1="155.30" x2="442.26" y2="157.70" stroke="#444444" stroke-width="0.9" />
<text x="442.26" y="167.80" font-size="8.2" text-anchor="middle" font-weight="normal" fill="#333" stroke="#333" stroke-width="0.22" >28</text>
<line x1="473.20" y1="155.30" x2="473.20" y2="157.70" stroke="#444444" stroke-width="0.9" />
<text x="473.20" y="167.80" font-size="8.2" text-anchor="middle" font-weight="normal" fill="#333" stroke="#333" stroke-width="0.22" >35</text>
<text x="401.00" y="179.00" font-size="8.45" text-anchor="middle" font-weight="normal" fill="#333" stroke="#333" stroke-width="0.22" >Days of treatment</text>
<text x="312" y="195.5" font-size="8" fill="#333" stroke="#333" stroke-width="0.22"><tspan font-style="italic">N</tspan> = 8-13/group</text>
<path d="M318.50 137.40 V143.40 M316.70 137.40 H320.30 M316.70 143.40 H320.30" stroke="#6d80b8" stroke-width="0.8" fill="none"/>
<path d="M331.76 134.50 V140.50 M329.96 134.50 H333.56 M329.96 140.50 H333.56" stroke="#6d80b8" stroke-width="0.8" fill="none"/>
<path d="M353.86 132.60 V138.60 M352.06 132.60 H355.66 M352.06 138.60 H355.66" stroke="#6d80b8" stroke-width="0.8" fill="none"/>
<path d="M367.12 129.70 V135.70 M365.32 129.70 H368.92 M365.32 135.70 H368.92" stroke="#6d80b8" stroke-width="0.8" fill="none"/>
<path d="M384.80 125.20 V133.20 M383.00 125.20 H386.60 M383.00 133.20 H386.60" stroke="#6d80b8" stroke-width="0.8" fill="none"/>
<path d="M398.06 125.80 V133.80 M396.26 125.80 H399.86 M396.26 133.80 H399.86" stroke="#6d80b8" stroke-width="0.8" fill="none"/>
<path d="M415.74 126.50 V134.50 M413.94 126.50 H417.54 M413.94 134.50 H417.54" stroke="#6d80b8" stroke-width="0.8" fill="none"/>
<path d="M429.00 130.70 V138.70 M427.20 130.70 H430.80 M427.20 138.70 H430.80" stroke="#6d80b8" stroke-width="0.8" fill="none"/>
<path d="M446.68 131.30 V139.30 M444.88 131.30 H448.48 M444.88 139.30 H448.48" stroke="#6d80b8" stroke-width="0.8" fill="none"/>
<path d="M459.94 133.00 V141.00 M458.14 133.00 H461.74 M458.14 141.00 H461.74" stroke="#6d80b8" stroke-width="0.8" fill="none"/>
<path d="M477.62 134.30 V144.30 M475.82 134.30 H479.42 M475.82 144.30 H479.42" stroke="#6d80b8" stroke-width="0.8" fill="none"/>
<polyline points="318.50,140.40 331.76,137.50 353.86,135.60 367.12,132.70 384.80,129.20 398.06,129.80 415.74,130.50 429.00,134.70 446.68,135.30 459.94,137.00 477.62,139.30" fill="none" stroke="#3a58a4" stroke-width="1.2" stroke-linejoin="round" />
<path d="M318.50 137.40 V143.40 M316.70 137.40 H320.30 M316.70 143.40 H320.30" stroke="#f2c79a" stroke-width="0.8" fill="none"/>
<path d="M331.76 133.00 V139.00 M329.96 133.00 H333.56 M329.96 139.00 H333.56" stroke="#f2c79a" stroke-width="0.8" fill="none"/>
<path d="M353.86 126.80 V132.80 M352.06 126.80 H355.66 M352.06 132.80 H355.66" stroke="#f2c79a" stroke-width="0.8" fill="none"/>
<path d="M367.12 125.80 V131.80 M365.32 125.80 H368.92 M365.32 131.80 H368.92" stroke="#f2c79a" stroke-width="0.8" fill="none"/>
<path d="M384.80 120.00 V128.00 M383.00 120.00 H386.60 M383.00 128.00 H386.60" stroke="#f2c79a" stroke-width="0.8" fill="none"/>
<path d="M398.06 120.60 V128.60 M396.26 120.60 H399.86 M396.26 128.60 H399.86" stroke="#f2c79a" stroke-width="0.8" fill="none"/>
<path d="M415.74 121.30 V129.30 M413.94 121.30 H417.54 M413.94 129.30 H417.54" stroke="#f2c79a" stroke-width="0.8" fill="none"/>
<path d="M429.00 123.70 V131.70 M427.20 123.70 H430.80 M427.20 131.70 H430.80" stroke="#f2c79a" stroke-width="0.8" fill="none"/>
<path d="M446.68 123.70 V131.70 M444.88 123.70 H448.48 M444.88 131.70 H448.48" stroke="#f2c79a" stroke-width="0.8" fill="none"/>
<path d="M459.94 123.20 V131.20 M458.14 123.20 H461.74 M458.14 131.20 H461.74" stroke="#f2c79a" stroke-width="0.8" fill="none"/>
<path d="M477.62 124.80 V132.80 M475.82 124.80 H479.42 M475.82 132.80 H479.42" stroke="#f2c79a" stroke-width="0.8" fill="none"/>
<polyline points="318.50,140.40 331.76,136.00 353.86,129.80 367.12,128.80 384.80,124.00 398.06,124.60 415.74,125.30 429.00,127.70 446.68,127.70 459.94,127.20 477.62,128.80" fill="none" stroke="#eaa055" stroke-width="1.2" stroke-linejoin="round" />
<path d="M318.50 137.40 V143.40 M316.70 137.40 H320.30 M316.70 143.40 H320.30" stroke="#ea7fae" stroke-width="0.8" fill="none"/>
<path d="M331.76 132.00 V138.00 M329.96 132.00 H333.56 M329.96 138.00 H333.56" stroke="#ea7fae" stroke-width="0.8" fill="none"/>
<path d="M353.86 124.90 V130.90 M352.06 124.90 H355.66 M352.06 130.90 H355.66" stroke="#ea7fae" stroke-width="0.8" fill="none"/>
<path d="M367.12 121.50 V127.50 M365.32 121.50 H368.92 M365.32 127.50 H368.92" stroke="#ea7fae" stroke-width="0.8" fill="none"/>
<path d="M384.80 117.50 V123.50 M383.00 117.50 H386.60 M383.00 123.50 H386.60" stroke="#ea7fae" stroke-width="0.8" fill="none"/>
<path d="M398.06 112.40 V118.40 M396.26 112.40 H399.86 M396.26 118.40 H399.86" stroke="#ea7fae" stroke-width="0.8" fill="none"/>
<path d="M415.74 108.60 V116.60 M413.94 108.60 H417.54 M413.94 116.60 H417.54" stroke="#ea7fae" stroke-width="0.8" fill="none"/>
<path d="M429.00 108.60 V116.60 M427.20 108.60 H430.80 M427.20 116.60 H430.80" stroke="#ea7fae" stroke-width="0.8" fill="none"/>
<path d="M446.68 104.60 V112.60 M444.88 104.60 H448.48 M444.88 112.60 H448.48" stroke="#ea7fae" stroke-width="0.8" fill="none"/>
<path d="M459.94 100.00 V108.00 M458.14 100.00 H461.74 M458.14 108.00 H461.74" stroke="#ea7fae" stroke-width="0.8" fill="none"/>
<path d="M477.62 94.30 V104.30 M475.82 94.30 H479.42 M475.82 104.30 H479.42" stroke="#ea7fae" stroke-width="0.8" fill="none"/>
<polyline points="318.50,140.40 331.76,135.00 353.86,127.90 367.12,124.50 384.80,120.50 398.06,115.40 415.74,112.60 429.00,112.60 446.68,108.60 459.94,104.00 477.62,99.30" fill="none" stroke="#da3080" stroke-width="1.2" stroke-linejoin="round" />
<path d="M318.50 137.40 V143.40 M316.70 137.40 H320.30 M316.70 143.40 H320.30" stroke="#555" stroke-width="0.8" fill="none"/>
<path d="M331.76 132.60 V138.60 M329.96 132.60 H333.56 M329.96 138.60 H333.56" stroke="#555" stroke-width="0.8" fill="none"/>
<path d="M353.86 124.80 V132.80 M352.06 124.80 H355.66 M352.06 132.80 H355.66" stroke="#555" stroke-width="0.8" fill="none"/>
<path d="M367.12 121.00 V129.00 M365.32 121.00 H368.92 M365.32 129.00 H368.92" stroke="#555" stroke-width="0.8" fill="none"/>
<path d="M384.80 116.80 V124.80 M383.00 116.80 H386.60 M383.00 124.80 H386.60" stroke="#555" stroke-width="0.8" fill="none"/>
<path d="M398.06 105.90 V117.90 M396.26 105.90 H399.86 M396.26 117.90 H399.86" stroke="#555" stroke-width="0.8" fill="none"/>
<path d="M415.74 98.40 V111.40 M413.94 98.40 H417.54 M413.94 111.40 H417.54" stroke="#555" stroke-width="0.8" fill="none"/>
<path d="M429.00 90.50 V103.50 M427.20 90.50 H430.80 M427.20 103.50 H430.80" stroke="#555" stroke-width="0.8" fill="none"/>
<path d="M446.68 71.80 V85.80 M444.88 71.80 H448.48 M444.88 85.80 H448.48" stroke="#555" stroke-width="0.8" fill="none"/>
<path d="M459.94 61.50 V78.50 M458.14 61.50 H461.74 M458.14 78.50 H461.74" stroke="#555" stroke-width="0.8" fill="none"/>
<path d="M477.62 45.40 V63.40 M475.82 45.40 H479.42 M475.82 63.40 H479.42" stroke="#555" stroke-width="0.8" fill="none"/>
<polyline points="318.50,140.40 331.76,135.60 353.86,128.80 367.12,125.00 384.80,120.80 398.06,111.90 415.74,104.90 429.00,97.00 446.68,78.80 459.94,70.00 477.62,54.40" fill="none" stroke="#111111" stroke-width="1.2" stroke-linejoin="round" />
<line x1="326.30" y1="26.30" x2="336.00" y2="26.30" stroke="#111111" stroke-width="1.4" />
<text transform="translate(341.00,29.30) scale(0.92,1)" font-size="8.152" text-anchor="start" font-weight="normal" fill="#333" stroke="#333" stroke-width="0.22" >Vehicle</text>
<line x1="326.30" y1="35.60" x2="336.00" y2="35.60" stroke="#4a68ac" stroke-width="1.4" />
<text transform="translate(341.00,38.60) scale(0.92,1)" font-size="8.152" text-anchor="start" font-weight="normal" fill="#333" stroke="#333" stroke-width="0.22" >AZD5305 10 mg/kg</text>
<line x1="326.30" y1="44.30" x2="336.00" y2="44.30" stroke="#e6a66a" stroke-width="1.4" />
<text transform="translate(341.00,47.30) scale(0.92,1)" font-size="8.152" text-anchor="start" font-weight="normal" fill="#333" stroke="#333" stroke-width="0.22" >AZD5305 1 mg/kg</text>
<line x1="326.30" y1="52.90" x2="336.00" y2="52.90" stroke="#e05292" stroke-width="1.4" />
<text transform="translate(341.00,55.90) scale(0.92,1)" font-size="8.152" text-anchor="start" font-weight="normal" fill="#333" stroke="#333" stroke-width="0.22" >AZD5305 0.1 mg/kg</text>
<text x="483.70" y="101.00" font-size="6.3" text-anchor="start" font-weight="bold" fill="#da3080" stroke="#da3080" stroke-width="0.22">52% TGI<tspan font-weight="normal" stroke-width="0" fill="#da3080">***</tspan></text>
<text x="483.70" y="129.60" font-size="6.3" text-anchor="start" font-weight="bold" fill="#f2a04c" stroke="#f2a04c" stroke-width="0.22">87% TGI<tspan font-weight="normal" stroke-width="0" fill="#f2a04c">***</tspan></text>
<text x="483.70" y="141.60" font-size="6.3" text-anchor="start" font-weight="bold" fill="#2c3f96" stroke="#2c3f96" stroke-width="0.22">100% TGI<tspan font-weight="normal" stroke-width="0" fill="#2c3f96">***</tspan></text>
<text transform="translate(9.20,300.70) rotate(-90) scale(1.06,1)" font-size="7.925" text-anchor="middle" fill="#333" stroke="#333" stroke-width="0.22">Tumor volume [mm<tspan font-size="4.91" dy="-3.6">3</tspan><tspan dy="3.6">]</tspan></text>
<text transform="translate(19.50,300.70) rotate(-90) scale(1.06,1)" font-size="7.925" text-anchor="middle" fill="#333" stroke="#333" stroke-width="0.22">Geomean ±SEM</text>
<line x1="50.40" y1="234.50" x2="50.40" y2="368.20" stroke="#444444" stroke-width="0.9" />
<line x1="48.00" y1="234.50" x2="50.40" y2="234.50" stroke="#444444" stroke-width="0.9" />
<text transform="translate(46.80,237.90) scale(0.9,1)" font-size="9.111" text-anchor="end" font-weight="normal" fill="#333" stroke="#333" stroke-width="0.22" >1,000</text>
<line x1="48.00" y1="258.13" x2="50.40" y2="258.13" stroke="#444444" stroke-width="0.9" />
<text x="46.80" y="261.53" font-size="8.2" text-anchor="end" font-weight="normal" fill="#333" stroke="#333" stroke-width="0.22" >500</text>
<line x1="48.00" y1="289.37" x2="50.40" y2="289.37" stroke="#444444" stroke-width="0.9" />
<text x="46.80" y="292.77" font-size="8.2" text-anchor="end" font-weight="normal" fill="#333" stroke="#333" stroke-width="0.22" >200</text>
<line x1="48.00" y1="313.00" x2="50.40" y2="313.00" stroke="#444444" stroke-width="0.9" />
<text x="46.80" y="316.40" font-size="8.2" text-anchor="end" font-weight="normal" fill="#333" stroke="#333" stroke-width="0.22" >100</text>
<line x1="48.00" y1="336.63" x2="50.40" y2="336.63" stroke="#444444" stroke-width="0.9" />
<text x="46.80" y="340.03" font-size="8.2" text-anchor="end" font-weight="normal" fill="#333" stroke="#333" stroke-width="0.22" >50</text>
<line x1="48.00" y1="354.05" x2="50.40" y2="354.05" stroke="#444444" stroke-width="0.9" />
<text x="46.80" y="357.45" font-size="8.2" text-anchor="end" font-weight="normal" fill="#333" stroke="#333" stroke-width="0.22" >30</text>
<line x1="48.00" y1="367.87" x2="50.40" y2="367.87" stroke="#444444" stroke-width="0.9" />
<text x="46.80" y="371.27" font-size="8.2" text-anchor="end" font-weight="normal" fill="#333" stroke="#333" stroke-width="0.22" >20</text>
<line x1="50.40" y1="368.20" x2="210.40" y2="368.20" stroke="#444444" stroke-width="0.9" />
<line x1="50.40" y1="368.20" x2="50.40" y2="370.60" stroke="#444444" stroke-width="0.9" />
<text x="50.40" y="380.10" font-size="8.2" text-anchor="middle" font-weight="normal" fill="#333" stroke="#333" stroke-width="0.22" >0</text>
<line x1="86.52" y1="368.20" x2="86.52" y2="370.60" stroke="#444444" stroke-width="0.9" />
<text x="86.52" y="380.10" font-size="8.2" text-anchor="middle" font-weight="normal" fill="#333" stroke="#333" stroke-width="0.22" >7</text>
<line x1="122.64" y1="368.20" x2="122.64" y2="370.60" stroke="#444444" stroke-width="0.9" />
<text x="122.64" y="380.10" font-size="8.2" text-anchor="middle" font-weight="normal" fill="#333" stroke="#333" stroke-width="0.22" >14</text>
<line x1="158.76" y1="368.20" x2="158.76" y2="370.60" stroke="#444444" stroke-width="0.9" />
<text x="158.76" y="380.10" font-size="8.2" text-anchor="middle" font-weight="normal" fill="#333" stroke="#333" stroke-width="0.22" >21</text>
<line x1="194.88" y1="368.20" x2="194.88" y2="370.60" stroke="#444444" stroke-width="0.9" />
<text x="194.88" y="380.10" font-size="8.2" text-anchor="middle" font-weight="normal" fill="#333" stroke="#333" stroke-width="0.22" >28</text>
<text x="129.70" y="391.50" font-size="8.3" text-anchor="middle" font-weight="normal" fill="#333" stroke="#333" stroke-width="0.22" >Days of treatment</text>
<text x="47.2" y="407.6" font-size="8" fill="#333" stroke="#333" stroke-width="0.22"><tspan font-style="italic">N</tspan> = 9-10/group</text>
<path d="M50.40 297.70 V303.70 M48.90 297.70 H51.90 M48.90 303.70 H51.90" stroke="#a8a8a8" stroke-width="0.8" fill="none"/>
<path d="M65.88 283.00 V289.00 M64.38 283.00 H67.38 M64.38 289.00 H67.38" stroke="#a8a8a8" stroke-width="0.8" fill="none"/>
<path d="M86.52 273.00 V279.00 M85.02 273.00 H88.02 M85.02 279.00 H88.02" stroke="#a8a8a8" stroke-width="0.8" fill="none"/>
<path d="M102.00 269.00 V275.00 M100.50 269.00 H103.50 M100.50 275.00 H103.50" stroke="#a8a8a8" stroke-width="0.8" fill="none"/>
<path d="M122.64 267.50 V273.50 M121.14 267.50 H124.14 M121.14 273.50 H124.14" stroke="#a8a8a8" stroke-width="0.8" fill="none"/>
<path d="M138.12 263.00 V269.00 M136.62 263.00 H139.62 M136.62 269.00 H139.62" stroke="#a8a8a8" stroke-width="0.8" fill="none"/>
<path d="M158.76 260.50 V266.50 M157.26 260.50 H160.26 M157.26 266.50 H160.26" stroke="#a8a8a8" stroke-width="0.8" fill="none"/>
<path d="M174.24 253.70 V261.70 M172.74 253.70 H175.74 M172.74 261.70 H175.74" stroke="#a8a8a8" stroke-width="0.8" fill="none"/>
<path d="M194.88 248.60 V256.60 M193.38 248.60 H196.38 M193.38 256.60 H196.38" stroke="#a8a8a8" stroke-width="0.8" fill="none"/>
<path d="M210.36 247.50 V255.50 M208.86 247.50 H211.86 M208.86 255.50 H211.86" stroke="#a8a8a8" stroke-width="0.8" fill="none"/>
<polyline points="50.40,300.70 65.88,286.00 86.52,276.00 102.00,272.00 122.64,270.50 138.12,266.00 158.76,263.50 174.24,257.70 194.88,252.60 210.36,251.50" fill="none" stroke="#7a7a7a" stroke-width="1.0" stroke-linejoin="round" />
<circle cx="50.40" cy="300.70" r="1.2" fill="#7a7a7a"/>
<circle cx="65.88" cy="286.00" r="1.2" fill="#7a7a7a"/>
<circle cx="86.52" cy="276.00" r="1.2" fill="#7a7a7a"/>
<circle cx="102.00" cy="272.00" r="1.2" fill="#7a7a7a"/>
<circle cx="122.64" cy="270.50" r="1.2" fill="#7a7a7a"/>
<circle cx="138.12" cy="266.00" r="1.2" fill="#7a7a7a"/>
<circle cx="158.76" cy="263.50" r="1.2" fill="#7a7a7a"/>
<circle cx="174.24" cy="257.70" r="1.2" fill="#7a7a7a"/>
<circle cx="194.88" cy="252.60" r="1.2" fill="#7a7a7a"/>
<circle cx="210.36" cy="251.50" r="1.2" fill="#7a7a7a"/>
<path d="M50.40 297.70 V303.70 M48.90 297.70 H51.90 M48.90 303.70 H51.90" stroke="#f3a27c" stroke-width="0.8" fill="none"/>
<path d="M65.88 283.00 V289.00 M64.38 283.00 H67.38 M64.38 289.00 H67.38" stroke="#f3a27c" stroke-width="0.8" fill="none"/>
<path d="M86.52 279.70 V285.70 M85.02 279.70 H88.02 M85.02 285.70 H88.02" stroke="#f3a27c" stroke-width="0.8" fill="none"/>
<path d="M102.00 285.50 V291.50 M100.50 285.50 H103.50 M100.50 291.50 H103.50" stroke="#f3a27c" stroke-width="0.8" fill="none"/>
<path d="M122.64 295.40 V301.40 M121.14 295.40 H124.14 M121.14 301.40 H124.14" stroke="#f3a27c" stroke-width="0.8" fill="none"/>
<path d="M138.12 297.00 V303.00 M136.62 297.00 H139.62 M136.62 303.00 H139.62" stroke="#f3a27c" stroke-width="0.8" fill="none"/>
<path d="M158.76 312.00 V318.00 M157.26 312.00 H160.26 M157.26 318.00 H160.26" stroke="#f3a27c" stroke-width="0.8" fill="none"/>
<path d="M174.24 321.00 V329.00 M172.74 321.00 H175.74 M172.74 329.00 H175.74" stroke="#f3a27c" stroke-width="0.8" fill="none"/>
<path d="M194.88 322.40 V329.40 M193.38 322.40 H196.38 M193.38 329.40 H196.38" stroke="#f3a27c" stroke-width="0.8" fill="none"/>
<path d="M210.36 329.50 V336.50 M208.86 329.50 H211.86 M208.86 336.50 H211.86" stroke="#f3a27c" stroke-width="0.8" fill="none"/>
<polyline points="50.40,300.70 65.88,286.00 86.52,282.70 102.00,288.50 122.64,298.40 138.12,300.00 158.76,315.00 174.24,325.00 194.88,325.90 210.36,333.00" fill="none" stroke="#e9632f" stroke-width="1.3" stroke-linejoin="round" />
<circle cx="50.40" cy="300.70" r="1.75" fill="#e9632f"/>
<circle cx="65.88" cy="286.00" r="1.75" fill="#e9632f"/>
<circle cx="86.52" cy="282.70" r="1.75" fill="#e9632f"/>
<circle cx="102.00" cy="288.50" r="1.75" fill="#e9632f"/>
<circle cx="122.64" cy="298.40" r="1.75" fill="#e9632f"/>
<circle cx="138.12" cy="300.00" r="1.75" fill="#e9632f"/>
<circle cx="158.76" cy="315.00" r="1.75" fill="#e9632f"/>
<circle cx="174.24" cy="325.00" r="1.75" fill="#e9632f"/>
<circle cx="194.88" cy="325.90" r="1.75" fill="#e9632f"/>
<circle cx="210.36" cy="333.00" r="1.75" fill="#e9632f"/>
<path d="M50.40 297.70 V303.70 M48.90 297.70 H51.90 M48.90 303.70 H51.90" stroke="#6d80b8" stroke-width="0.8" fill="none"/>
<path d="M65.88 283.00 V289.00 M64.38 283.00 H67.38 M64.38 289.00 H67.38" stroke="#6d80b8" stroke-width="0.8" fill="none"/>
<path d="M86.52 284.90 V288.90 M85.02 284.90 H88.02 M85.02 288.90 H88.02" stroke="#6d80b8" stroke-width="0.8" fill="none"/>
<path d="M102.00 297.40 V301.40 M100.50 297.40 H103.50 M100.50 301.40 H103.50" stroke="#6d80b8" stroke-width="0.8" fill="none"/>
<path d="M122.64 314.90 V318.90 M121.14 314.90 H124.14 M121.14 318.90 H124.14" stroke="#6d80b8" stroke-width="0.8" fill="none"/>
<path d="M138.12 315.00 V321.00 M136.62 315.00 H139.62 M136.62 321.00 H139.62" stroke="#6d80b8" stroke-width="0.8" fill="none"/>
<path d="M158.76 336.50 V344.50 M157.26 336.50 H160.26 M157.26 344.50 H160.26" stroke="#6d80b8" stroke-width="0.8" fill="none"/>
<path d="M174.24 349.30 V359.30 M172.74 349.30 H175.74 M172.74 359.30 H175.74" stroke="#6d80b8" stroke-width="0.8" fill="none"/>
<path d="M194.88 342.20 V350.20 M193.38 342.20 H196.38 M193.38 350.20 H196.38" stroke="#6d80b8" stroke-width="0.8" fill="none"/>
<path d="M210.36 343.70 V355.70 M208.86 343.70 H211.86 M208.86 355.70 H211.86" stroke="#6d80b8" stroke-width="0.8" fill="none"/>
<polyline points="50.40,300.70 65.88,286.00 86.52,286.90 102.00,299.40 122.64,316.90 138.12,318.00 158.76,340.50 174.24,354.30 194.88,346.20 210.36,349.70" fill="none" stroke="#2f4494" stroke-width="1.3" stroke-linejoin="round" />
<circle cx="50.40" cy="300.70" r="1.75" fill="#2f4494"/>
<circle cx="65.88" cy="286.00" r="1.75" fill="#2f4494"/>
<circle cx="86.52" cy="286.90" r="1.75" fill="#2f4494"/>
<circle cx="102.00" cy="299.40" r="1.75" fill="#2f4494"/>
<circle cx="122.64" cy="316.90" r="1.75" fill="#2f4494"/>
<circle cx="138.12" cy="318.00" r="1.75" fill="#2f4494"/>
<circle cx="158.76" cy="340.50" r="1.75" fill="#2f4494"/>
<circle cx="174.24" cy="354.30" r="1.75" fill="#2f4494"/>
<circle cx="194.88" cy="346.20" r="1.75" fill="#2f4494"/>
<circle cx="210.36" cy="349.70" r="1.75" fill="#2f4494"/>
<path d="M50.40 297.70 V303.70 M48.90 297.70 H51.90 M48.90 303.70 H51.90" stroke="#ea7fae" stroke-width="0.8" fill="none"/>
<path d="M65.88 282.50 V288.50 M64.38 282.50 H67.38 M64.38 288.50 H67.38" stroke="#ea7fae" stroke-width="0.8" fill="none"/>
<path d="M86.52 270.70 V278.70 M85.02 270.70 H88.02 M85.02 278.70 H88.02" stroke="#ea7fae" stroke-width="0.8" fill="none"/>
<path d="M102.00 268.80 V276.80 M100.50 268.80 H103.50 M100.50 276.80 H103.50" stroke="#ea7fae" stroke-width="0.8" fill="none"/>
<path d="M122.64 268.80 V276.80 M121.14 268.80 H124.14 M121.14 276.80 H124.14" stroke="#ea7fae" stroke-width="0.8" fill="none"/>
<path d="M138.12 266.70 V274.70 M136.62 266.70 H139.62 M136.62 274.70 H139.62" stroke="#ea7fae" stroke-width="0.8" fill="none"/>
<path d="M158.76 261.80 V269.80 M157.26 261.80 H160.26 M157.26 269.80 H160.26" stroke="#ea7fae" stroke-width="0.8" fill="none"/>
<path d="M174.24 262.70 V272.70 M172.74 262.70 H175.74 M172.74 272.70 H175.74" stroke="#ea7fae" stroke-width="0.8" fill="none"/>
<path d="M194.88 253.70 V261.70 M193.38 253.70 H196.38 M193.38 261.70 H196.38" stroke="#ea7fae" stroke-width="0.8" fill="none"/>
<path d="M210.36 254.90 V262.90 M208.86 254.90 H211.86 M208.86 262.90 H211.86" stroke="#ea7fae" stroke-width="0.8" fill="none"/>
<polyline points="50.40,300.70 65.88,285.50 86.52,274.70 102.00,272.80 122.64,272.80 138.12,270.70 158.76,265.80 174.24,267.70 194.88,257.70 210.36,258.90" fill="none" stroke="#da3080" stroke-width="1.3" stroke-linejoin="round" />
<circle cx="50.40" cy="300.70" r="1.75" fill="#da3080"/>
<circle cx="65.88" cy="285.50" r="1.75" fill="#da3080"/>
<circle cx="86.52" cy="274.70" r="1.75" fill="#da3080"/>
<circle cx="102.00" cy="272.80" r="1.75" fill="#da3080"/>
<circle cx="122.64" cy="272.80" r="1.75" fill="#da3080"/>
<circle cx="138.12" cy="270.70" r="1.75" fill="#da3080"/>
<circle cx="158.76" cy="265.80" r="1.75" fill="#da3080"/>
<circle cx="174.24" cy="267.70" r="1.75" fill="#da3080"/>
<circle cx="194.88" cy="257.70" r="1.75" fill="#da3080"/>
<circle cx="210.36" cy="258.90" r="1.75" fill="#da3080"/>
<path d="M50.40 297.70 V303.70 M48.90 297.70 H51.90 M48.90 303.70 H51.90" stroke="#6870a8" stroke-width="0.8" fill="none"/>
<path d="M65.88 283.20 V289.20 M64.38 283.20 H67.38 M64.38 289.20 H67.38" stroke="#6870a8" stroke-width="0.8" fill="none"/>
<path d="M86.52 275.00 V281.00 M85.02 275.00 H88.02 M85.02 281.00 H88.02" stroke="#6870a8" stroke-width="0.8" fill="none"/>
<path d="M102.00 269.30 V275.30 M100.50 269.30 H103.50 M100.50 275.30 H103.50" stroke="#6870a8" stroke-width="0.8" fill="none"/>
<path d="M122.64 267.20 V275.20 M121.14 267.20 H124.14 M121.14 275.20 H124.14" stroke="#6870a8" stroke-width="0.8" fill="none"/>
<path d="M138.12 259.10 V267.10 M136.62 259.10 H139.62 M136.62 267.10 H139.62" stroke="#6870a8" stroke-width="0.8" fill="none"/>
<path d="M158.76 249.20 V257.20 M157.26 249.20 H160.26 M157.26 257.20 H160.26" stroke="#6870a8" stroke-width="0.8" fill="none"/>
<path d="M174.24 249.80 V257.80 M172.74 249.80 H175.74 M172.74 257.80 H175.74" stroke="#6870a8" stroke-width="0.8" fill="none"/>
<path d="M194.88 245.60 V253.60 M193.38 245.60 H196.38 M193.38 253.60 H196.38" stroke="#6870a8" stroke-width="0.8" fill="none"/>
<path d="M210.36 243.30 V251.30 M208.86 243.30 H211.86 M208.86 251.30 H211.86" stroke="#6870a8" stroke-width="0.8" fill="none"/>
<polyline points="50.40,300.70 65.88,286.20 86.52,278.00 102.00,272.30 122.64,271.20 138.12,263.10 158.76,253.20 174.24,253.80 194.88,249.60 210.36,247.30" fill="none" stroke="#1d2470" stroke-width="1.3" stroke-linejoin="round" stroke-dasharray="3.5,2.3"/>
<circle cx="50.40" cy="300.70" r="1.75" fill="#1d2470"/>
<circle cx="65.88" cy="286.20" r="1.75" fill="#1d2470"/>
<circle cx="86.52" cy="278.00" r="1.75" fill="#1d2470"/>
<circle cx="102.00" cy="272.30" r="1.75" fill="#1d2470"/>
<circle cx="122.64" cy="271.20" r="1.75" fill="#1d2470"/>
<circle cx="138.12" cy="263.10" r="1.75" fill="#1d2470"/>
<circle cx="158.76" cy="253.20" r="1.75" fill="#1d2470"/>
<circle cx="174.24" cy="253.80" r="1.75" fill="#1d2470"/>
<circle cx="194.88" cy="249.60" r="1.75" fill="#1d2470"/>
<circle cx="210.36" cy="247.30" r="1.75" fill="#1d2470"/>
<path d="M50.40 297.70 V303.70 M48.90 297.70 H51.90 M48.90 303.70 H51.90" stroke="#444444" stroke-width="0.8" fill="none"/>
<path d="M65.88 283.20 V289.20 M64.38 283.20 H67.38 M64.38 289.20 H67.38" stroke="#444444" stroke-width="0.8" fill="none"/>
<path d="M86.52 271.20 V277.20 M85.02 271.20 H88.02 M85.02 277.20 H88.02" stroke="#444444" stroke-width="0.8" fill="none"/>
<path d="M102.00 263.10 V269.10 M100.50 263.10 H103.50 M100.50 269.10 H103.50" stroke="#444444" stroke-width="0.8" fill="none"/>
<path d="M122.64 258.30 V264.30 M121.14 258.30 H124.14 M121.14 264.30 H124.14" stroke="#444444" stroke-width="0.8" fill="none"/>
<path d="M138.12 254.30 V260.30 M136.62 254.30 H139.62 M136.62 260.30 H139.62" stroke="#444444" stroke-width="0.8" fill="none"/>
<path d="M158.76 248.10 V255.10 M157.26 248.10 H160.26 M157.26 255.10 H160.26" stroke="#444444" stroke-width="0.8" fill="none"/>
<path d="M174.24 244.50 V252.50 M172.74 244.50 H175.74 M172.74 252.50 H175.74" stroke="#444444" stroke-width="0.8" fill="none"/>
<path d="M194.88 236.20 V242.20 M193.38 236.20 H196.38 M193.38 242.20 H196.38" stroke="#444444" stroke-width="0.8" fill="none"/>
<polyline points="50.40,300.70 65.88,286.20 86.52,274.20 102.00,266.10 122.64,261.30 138.12,257.30 158.76,251.60 174.24,248.50 194.88,239.20 210.36,239.20" fill="none" stroke="#111111" stroke-width="1.3" stroke-linejoin="round" />
<rect x="48.40" y="298.70" width="4.00" height="4.00" fill="#111111"/>
<rect x="63.88" y="284.20" width="4.00" height="4.00" fill="#111111"/>
<rect x="84.52" y="272.20" width="4.00" height="4.00" fill="#111111"/>
<rect x="100.00" y="264.10" width="4.00" height="4.00" fill="#111111"/>
<rect x="120.64" y="259.30" width="4.00" height="4.00" fill="#111111"/>
<rect x="136.12" y="255.30" width="4.00" height="4.00" fill="#111111"/>
<rect x="156.76" y="249.60" width="4.00" height="4.00" fill="#111111"/>
<rect x="172.24" y="246.50" width="4.00" height="4.00" fill="#111111"/>
<rect x="192.88" y="237.20" width="4.00" height="4.00" fill="#111111"/>
<rect x="208.36" y="237.20" width="4.00" height="4.00" fill="#111111"/>
<line x1="54.60" y1="325.40" x2="64.60" y2="325.40" stroke="#111111" stroke-width="1.45" />
<rect x="57.60" y="323.40" width="4.00" height="4.00" fill="#111111"/>
<text transform="translate(69.20,328.00) scale(0.92,1)" font-size="8.152" text-anchor="start" font-weight="normal" fill="#333" stroke="#333" stroke-width="0.22" >Vehicle</text>
<line x1="54.60" y1="333.00" x2="64.60" y2="333.00" stroke="#2f4494" stroke-width="1.45" />
<circle cx="59.60" cy="333.00" r="1.8" fill="#2f4494"/>
<text transform="translate(69.20,335.60) scale(0.92,1)" font-size="8.152" text-anchor="start" font-weight="normal" fill="#333" stroke="#333" stroke-width="0.22" >AZD5305 10 mg/kg QD</text>
<line x1="54.60" y1="340.50" x2="64.60" y2="340.50" stroke="#e9632f" stroke-width="1.45" />
<circle cx="59.60" cy="340.50" r="1.8" fill="#e9632f"/>
<text transform="translate(69.20,343.10) scale(0.92,1)" font-size="8.152" text-anchor="start" font-weight="normal" fill="#333" stroke="#333" stroke-width="0.22" >AZD5305 1 mg/kg  QD</text>
<line x1="54.60" y1="348.00" x2="64.60" y2="348.00" stroke="#da3080" stroke-width="1.45" />
<circle cx="59.60" cy="348.00" r="1.8" fill="#da3080"/>
<text transform="translate(69.20,350.60) scale(0.92,1)" font-size="8.152" text-anchor="start" font-weight="normal" fill="#333" stroke="#333" stroke-width="0.22" >AZD5305 0.1 mg/kg QD</text>
<line x1="54.60" y1="354.60" x2="64.60" y2="354.60" stroke="#1d2470" stroke-width="1.45" stroke-dasharray="2.5,2"/>
<circle cx="59.60" cy="354.60" r="1.8" fill="#1d2470"/>
<text transform="translate(69.20,357.20) scale(0.92,1)" font-size="8.152" text-anchor="start" font-weight="normal" fill="#333" stroke="#333" stroke-width="0.22" >AZD5305 0.03 mg/kg QD</text>
<line x1="54.60" y1="362.10" x2="64.60" y2="362.10" stroke="#7a7a7a" stroke-width="1.45" />
<circle cx="59.60" cy="362.10" r="1.8" fill="#7a7a7a"/>
<text transform="translate(69.20,364.70) scale(0.92,1)" font-size="8.152" text-anchor="start" font-weight="normal" fill="#333" stroke="#333" stroke-width="0.22" >Olaparib 100 mg/kg QD</text>
<text x="216.90" y="248.80" font-size="7.0" text-anchor="start" font-weight="bold" fill="#2c3f96" stroke="#2c3f96" stroke-width="0.22">28% TGI <tspan font-weight="normal" stroke-width="0" fill="#2c3f96">*</tspan></text>
<text x="216.90" y="256.40" font-size="7.1" text-anchor="start" font-weight="normal" fill="#8a8a8a" stroke="#8a8a8a" stroke-width="0.22">40% TGI ns</text>
<text x="216.90" y="263.80" font-size="7.0" text-anchor="start" font-weight="bold" fill="#da3080" stroke="#da3080" stroke-width="0.22">54% TGI<tspan font-weight="normal" stroke-width="0" fill="#da3080">*</tspan></text>
<text x="216.90" y="337.20" font-size="7.0" text-anchor="start" font-weight="bold" fill="#e9632f" stroke="#e9632f" stroke-width="0.22">63% reg <tspan font-weight="normal" stroke-width="0" fill="#e9632f"> ***</tspan></text>
<text x="216.90" y="354.60" font-size="7.0" text-anchor="start" font-weight="bold" fill="#2c3f96" stroke="#2c3f96" stroke-width="0.22">78% reg <tspan font-weight="normal" stroke-width="0" fill="#2c3f96"> ***</tspan></text>
<text transform="translate(279.80,299.50) rotate(-90) scale(1.06,1)" font-size="7.925" text-anchor="middle" fill="#333" stroke="#333" stroke-width="0.22">Tumor volume [mm<tspan font-size="4.91" dy="-3.6">3</tspan><tspan dy="3.6">]</tspan></text>
<text transform="translate(290.20,299.50) rotate(-90) scale(1.06,1)" font-size="7.925" text-anchor="middle" fill="#333" stroke="#333" stroke-width="0.22">Geomean ±SEM</text>
<line x1="319.50" y1="235.20" x2="319.50" y2="367.80" stroke="#444444" stroke-width="0.9" />
<line x1="317.10" y1="235.20" x2="319.50" y2="235.20" stroke="#444444" stroke-width="0.9" />
<text transform="translate(315.90,238.60) scale(0.9,1)" font-size="9.111" text-anchor="end" font-weight="normal" fill="#333" stroke="#333" stroke-width="0.22" >1,500</text>
<line x1="317.10" y1="279.40" x2="319.50" y2="279.40" stroke="#444444" stroke-width="0.9" />
<text transform="translate(315.90,282.80) scale(0.9,1)" font-size="9.111" text-anchor="end" font-weight="normal" fill="#333" stroke="#333" stroke-width="0.22" >1,000</text>
<line x1="317.10" y1="323.60" x2="319.50" y2="323.60" stroke="#444444" stroke-width="0.9" />
<text x="315.90" y="327.00" font-size="8.2" text-anchor="end" font-weight="normal" fill="#333" stroke="#333" stroke-width="0.22" >500</text>
<line x1="317.10" y1="367.80" x2="319.50" y2="367.80" stroke="#444444" stroke-width="0.9" />
<text x="315.90" y="371.20" font-size="8.2" text-anchor="end" font-weight="normal" fill="#333" stroke="#333" stroke-width="0.22" >0</text>
<line x1="319.50" y1="367.80" x2="479.70" y2="367.80" stroke="#444444" stroke-width="0.9" />
<line x1="319.50" y1="367.80" x2="319.50" y2="370.20" stroke="#444444" stroke-width="0.9" />
<text x="319.50" y="379.80" font-size="8.2" text-anchor="middle" font-weight="normal" fill="#333" stroke="#333" stroke-width="0.22" >0</text>
<line x1="372.98" y1="367.80" x2="372.98" y2="370.20" stroke="#444444" stroke-width="0.9" />
<text x="372.98" y="379.80" font-size="8.2" text-anchor="middle" font-weight="normal" fill="#333" stroke="#333" stroke-width="0.22" >7</text>
<line x1="426.46" y1="367.80" x2="426.46" y2="370.20" stroke="#444444" stroke-width="0.9" />
<text x="426.46" y="379.80" font-size="8.2" text-anchor="middle" font-weight="normal" fill="#333" stroke="#333" stroke-width="0.22" >14</text>
<line x1="479.94" y1="367.80" x2="479.94" y2="370.20" stroke="#444444" stroke-width="0.9" />
<text x="479.94" y="379.80" font-size="8.2" text-anchor="middle" font-weight="normal" fill="#333" stroke="#333" stroke-width="0.22" >21</text>
<text x="399.50" y="391.00" font-size="8.3" text-anchor="middle" font-weight="normal" fill="#333" stroke="#333" stroke-width="0.22" >Days of treatment</text>
<text x="316.3" y="407.3" font-size="8" fill="#333" stroke="#333" stroke-width="0.22"><tspan font-style="italic">N</tspan> = 6-8/group</text>
<path d="M318.90 351.00 V359.00 M317.40 351.00 H320.40 M317.40 359.00 H320.40" stroke="#a8a8a8" stroke-width="0.8" fill="none"/>
<path d="M342.80 347.00 V355.00 M341.30 347.00 H344.30 M341.30 355.00 H344.30" stroke="#a8a8a8" stroke-width="0.8" fill="none"/>
<path d="M364.00 335.00 V345.00 M362.50 335.00 H365.50 M362.50 345.00 H365.50" stroke="#a8a8a8" stroke-width="0.8" fill="none"/>
<path d="M396.00 323.80 V333.80 M394.50 323.80 H397.50 M394.50 333.80 H397.50" stroke="#a8a8a8" stroke-width="0.8" fill="none"/>
<path d="M418.90 314.70 V326.70 M417.40 314.70 H420.40 M417.40 326.70 H420.40" stroke="#a8a8a8" stroke-width="0.8" fill="none"/>
<path d="M449.60 282.20 V302.20 M448.10 282.20 H451.10 M448.10 302.20 H451.10" stroke="#a8a8a8" stroke-width="0.8" fill="none"/>
<path d="M472.50 266.20 V290.20 M471.00 266.20 H474.00 M471.00 290.20 H474.00" stroke="#a8a8a8" stroke-width="0.8" fill="none"/>
<polyline points="318.90,355.00 342.80,351.00 364.00,340.00 396.00,328.80 418.90,320.70 449.60,292.20 472.50,278.20" fill="none" stroke="#7a7a7a" stroke-width="1.0" stroke-linejoin="round" />
<circle cx="318.90" cy="355.00" r="1.2" fill="#7a7a7a"/>
<circle cx="342.80" cy="351.00" r="1.2" fill="#7a7a7a"/>
<circle cx="364.00" cy="340.00" r="1.2" fill="#7a7a7a"/>
<circle cx="396.00" cy="328.80" r="1.2" fill="#7a7a7a"/>
<circle cx="418.90" cy="320.70" r="1.2" fill="#7a7a7a"/>
<circle cx="449.60" cy="292.20" r="1.2" fill="#7a7a7a"/>
<circle cx="472.50" cy="278.20" r="1.2" fill="#7a7a7a"/>
<path d="M318.90 351.00 V359.00 M317.40 351.00 H320.40 M317.40 359.00 H320.40" stroke="#f3a27c" stroke-width="0.8" fill="none"/>
<path d="M342.80 347.00 V355.00 M341.30 347.00 H344.30 M341.30 355.00 H344.30" stroke="#f3a27c" stroke-width="0.8" fill="none"/>
<path d="M364.00 337.00 V347.00 M362.50 337.00 H365.50 M362.50 347.00 H365.50" stroke="#f3a27c" stroke-width="0.8" fill="none"/>
<path d="M396.00 328.70 V338.70 M394.50 328.70 H397.50 M394.50 338.70 H397.50" stroke="#f3a27c" stroke-width="0.8" fill="none"/>
<path d="M418.90 317.30 V329.30 M417.40 317.30 H420.40 M417.40 329.30 H420.40" stroke="#f3a27c" stroke-width="0.8" fill="none"/>
<path d="M449.60 282.20 V302.20 M448.10 282.20 H451.10 M448.10 302.20 H451.10" stroke="#f3a27c" stroke-width="0.8" fill="none"/>
<path d="M472.50 266.20 V290.20 M471.00 266.20 H474.00 M471.00 290.20 H474.00" stroke="#f3a27c" stroke-width="0.8" fill="none"/>
<polyline points="318.90,355.00 342.80,351.00 364.00,342.00 396.00,333.70 418.90,323.30 449.60,292.20 472.50,278.20" fill="none" stroke="#e9632f" stroke-width="1.3" stroke-linejoin="round" />
<circle cx="318.90" cy="355.00" r="1.75" fill="#e9632f"/>
<circle cx="342.80" cy="351.00" r="1.75" fill="#e9632f"/>
<circle cx="364.00" cy="342.00" r="1.75" fill="#e9632f"/>
<circle cx="396.00" cy="333.70" r="1.75" fill="#e9632f"/>
<circle cx="418.90" cy="323.30" r="1.75" fill="#e9632f"/>
<circle cx="449.60" cy="292.20" r="1.75" fill="#e9632f"/>
<circle cx="472.50" cy="278.20" r="1.75" fill="#e9632f"/>
<path d="M318.90 351.00 V359.00 M317.40 351.00 H320.40 M317.40 359.00 H320.40" stroke="#6d80b8" stroke-width="0.8" fill="none"/>
<path d="M342.80 344.00 V352.00 M341.30 344.00 H344.30 M341.30 352.00 H344.30" stroke="#6d80b8" stroke-width="0.8" fill="none"/>
<path d="M364.00 339.50 V349.50 M362.50 339.50 H365.50 M362.50 349.50 H365.50" stroke="#6d80b8" stroke-width="0.8" fill="none"/>
<path d="M396.00 329.70 V339.70 M394.50 329.70 H397.50 M394.50 339.70 H397.50" stroke="#6d80b8" stroke-width="0.8" fill="none"/>
<path d="M418.90 313.00 V325.00 M417.40 313.00 H420.40 M417.40 325.00 H420.40" stroke="#6d80b8" stroke-width="0.8" fill="none"/>
<path d="M449.60 282.20 V302.20 M448.10 282.20 H451.10 M448.10 302.20 H451.10" stroke="#6d80b8" stroke-width="0.8" fill="none"/>
<path d="M472.50 259.60 V283.60 M471.00 259.60 H474.00 M471.00 283.60 H474.00" stroke="#6d80b8" stroke-width="0.8" fill="none"/>
<polyline points="318.90,355.00 342.80,348.00 364.00,344.50 396.00,334.70 418.90,319.00 449.60,292.20 472.50,271.60" fill="none" stroke="#2f4494" stroke-width="1.3" stroke-linejoin="round" />
<circle cx="318.90" cy="355.00" r="1.75" fill="#2f4494"/>
<circle cx="342.80" cy="348.00" r="1.75" fill="#2f4494"/>
<circle cx="364.00" cy="344.50" r="1.75" fill="#2f4494"/>
<circle cx="396.00" cy="334.70" r="1.75" fill="#2f4494"/>
<circle cx="418.90" cy="319.00" r="1.75" fill="#2f4494"/>
<circle cx="449.60" cy="292.20" r="1.75" fill="#2f4494"/>
<circle cx="472.50" cy="271.60" r="1.75" fill="#2f4494"/>
<path d="M318.90 351.00 V359.00 M317.40 351.00 H320.40 M317.40 359.00 H320.40" stroke="#ea7fae" stroke-width="0.8" fill="none"/>
<path d="M342.80 346.00 V356.00 M341.30 346.00 H344.30 M341.30 356.00 H344.30" stroke="#ea7fae" stroke-width="0.8" fill="none"/>
<path d="M364.00 330.60 V346.60 M362.50 330.60 H365.50 M362.50 346.60 H365.50" stroke="#ea7fae" stroke-width="0.8" fill="none"/>
<path d="M396.00 314.30 V330.30 M394.50 314.30 H397.50 M394.50 330.30 H397.50" stroke="#ea7fae" stroke-width="0.8" fill="none"/>
<path d="M418.90 304.50 V320.50 M417.40 304.50 H420.40 M417.40 320.50 H420.40" stroke="#ea7fae" stroke-width="0.8" fill="none"/>
<path d="M449.60 277.60 V301.60 M448.10 277.60 H451.10 M448.10 301.60 H451.10" stroke="#ea7fae" stroke-width="0.8" fill="none"/>
<path d="M472.50 240.50 V278.50 M471.00 240.50 H474.00 M471.00 278.50 H474.00" stroke="#ea7fae" stroke-width="0.8" fill="none"/>
<polyline points="318.90,355.00 342.80,351.00 364.00,338.60 396.00,322.30 418.90,312.50 449.60,289.60 472.50,259.50" fill="none" stroke="#da3080" stroke-width="1.3" stroke-linejoin="round" />
<circle cx="318.90" cy="355.00" r="1.75" fill="#da3080"/>
<circle cx="342.80" cy="351.00" r="1.75" fill="#da3080"/>
<circle cx="364.00" cy="338.60" r="1.75" fill="#da3080"/>
<circle cx="396.00" cy="322.30" r="1.75" fill="#da3080"/>
<circle cx="418.90" cy="312.50" r="1.75" fill="#da3080"/>
<circle cx="449.60" cy="289.60" r="1.75" fill="#da3080"/>
<circle cx="472.50" cy="259.50" r="1.75" fill="#da3080"/>
<path d="M318.90 351.00 V359.00 M317.40 351.00 H320.40 M317.40 359.00 H320.40" stroke="#6870a8" stroke-width="0.8" fill="none"/>
<path d="M342.80 346.00 V354.00 M341.30 346.00 H344.30 M341.30 354.00 H344.30" stroke="#6870a8" stroke-width="0.8" fill="none"/>
<path d="M364.00 337.00 V347.00 M362.50 337.00 H365.50 M362.50 347.00 H365.50" stroke="#6870a8" stroke-width="0.8" fill="none"/>
<path d="M396.00 327.00 V337.00 M394.50 327.00 H397.50 M394.50 337.00 H397.50" stroke="#6870a8" stroke-width="0.8" fill="none"/>
<path d="M426.80 316.30 V328.30 M425.30 316.30 H428.30 M425.30 328.30 H428.30" stroke="#6870a8" stroke-width="0.8" fill="none"/>
<path d="M449.60 290.00 V310.00 M448.10 290.00 H451.10 M448.10 310.00 H451.10" stroke="#6870a8" stroke-width="0.8" fill="none"/>
<path d="M472.50 272.70 V296.70 M471.00 272.70 H474.00 M471.00 296.70 H474.00" stroke="#6870a8" stroke-width="0.8" fill="none"/>
<polyline points="318.90,355.00 342.80,350.00 364.00,342.00 396.00,332.00 426.80,322.30 449.60,300.00 472.50,284.70" fill="none" stroke="#1d2470" stroke-width="1.3" stroke-linejoin="round" stroke-dasharray="3.5,2.3"/>
<circle cx="318.90" cy="355.00" r="1.75" fill="#1d2470"/>
<circle cx="342.80" cy="350.00" r="1.75" fill="#1d2470"/>
<circle cx="364.00" cy="342.00" r="1.75" fill="#1d2470"/>
<circle cx="396.00" cy="332.00" r="1.75" fill="#1d2470"/>
<circle cx="426.80" cy="322.30" r="1.75" fill="#1d2470"/>
<circle cx="449.60" cy="300.00" r="1.75" fill="#1d2470"/>
<circle cx="472.50" cy="284.70" r="1.75" fill="#1d2470"/>
<path d="M318.90 351.00 V359.00 M317.40 351.00 H320.40 M317.40 359.00 H320.40" stroke="#444444" stroke-width="0.8" fill="none"/>
<path d="M342.80 342.80 V352.80 M341.30 342.80 H344.30 M341.30 352.80 H344.30" stroke="#444444" stroke-width="0.8" fill="none"/>
<path d="M364.00 335.30 V345.30 M362.50 335.30 H365.50 M362.50 345.30 H365.50" stroke="#444444" stroke-width="0.8" fill="none"/>
<path d="M396.00 324.80 V334.80 M394.50 324.80 H397.50 M394.50 334.80 H397.50" stroke="#444444" stroke-width="0.8" fill="none"/>
<path d="M418.90 324.80 V334.80 M417.40 324.80 H420.40 M417.40 334.80 H420.40" stroke="#444444" stroke-width="0.8" fill="none"/>
<path d="M426.80 313.70 V325.70 M425.30 313.70 H428.30 M425.30 325.70 H428.30" stroke="#444444" stroke-width="0.8" fill="none"/>
<path d="M449.60 286.00 V314.00 M448.10 286.00 H451.10 M448.10 314.00 H451.10" stroke="#444444" stroke-width="0.8" fill="none"/>
<path d="M472.50 273.70 V295.70 M471.00 273.70 H474.00 M471.00 295.70 H474.00" stroke="#444444" stroke-width="0.8" fill="none"/>
<polyline points="318.90,355.00 342.80,347.80 364.00,340.30 396.00,329.80 418.90,329.80 426.80,319.70 449.60,300.00 472.50,284.70" fill="none" stroke="#111111" stroke-width="1.3" stroke-linejoin="round" />
<rect x="316.90" y="353.00" width="4.00" height="4.00" fill="#111111"/>
<rect x="340.80" y="345.80" width="4.00" height="4.00" fill="#111111"/>
<rect x="362.00" y="338.30" width="4.00" height="4.00" fill="#111111"/>
<rect x="394.00" y="327.80" width="4.00" height="4.00" fill="#111111"/>
<rect x="416.90" y="327.80" width="4.00" height="4.00" fill="#111111"/>
<rect x="424.80" y="317.70" width="4.00" height="4.00" fill="#111111"/>
<rect x="447.60" y="298.00" width="4.00" height="4.00" fill="#111111"/>
<rect x="470.50" y="282.70" width="4.00" height="4.00" fill="#111111"/>
<line x1="323.50" y1="247.10" x2="334.00" y2="247.10" stroke="#111111" stroke-width="1.45" />
<rect x="326.75" y="245.10" width="4.00" height="4.00" fill="#111111"/>
<text transform="translate(338.80,249.40) scale(0.92,1)" font-size="8.152" text-anchor="start" font-weight="normal" fill="#333" stroke="#333" stroke-width="0.22" >Vehicle</text>
<line x1="323.50" y1="255.80" x2="334.00" y2="255.80" stroke="#2f4494" stroke-width="1.45" />
<circle cx="328.75" cy="255.80" r="1.8" fill="#2f4494"/>
<text transform="translate(338.80,258.10) scale(0.92,1)" font-size="8.152" text-anchor="start" font-weight="normal" fill="#333" stroke="#333" stroke-width="0.22" >AZD5305 10 mg/kg QD</text>
<line x1="323.50" y1="263.50" x2="334.00" y2="263.50" stroke="#e9632f" stroke-width="1.45" />
<circle cx="328.75" cy="263.50" r="1.8" fill="#e9632f"/>
<text transform="translate(338.80,265.80) scale(0.92,1)" font-size="8.152" text-anchor="start" font-weight="normal" fill="#333" stroke="#333" stroke-width="0.22" >AZD5305 1 mg/kg QD</text>
<line x1="323.50" y1="272.10" x2="334.00" y2="272.10" stroke="#da3080" stroke-width="1.45" />
<circle cx="328.75" cy="272.10" r="1.8" fill="#da3080"/>
<text transform="translate(338.80,274.40) scale(0.92,1)" font-size="8.152" text-anchor="start" font-weight="normal" fill="#333" stroke="#333" stroke-width="0.22" >AZD5305 0.1 mg/kg QD</text>
<line x1="323.50" y1="279.80" x2="334.00" y2="279.80" stroke="#1d2470" stroke-width="1.45" stroke-dasharray="2.5,2"/>
<circle cx="328.75" cy="279.80" r="1.8" fill="#1d2470"/>
<text transform="translate(338.80,282.10) scale(0.92,1)" font-size="8.152" text-anchor="start" font-weight="normal" fill="#333" stroke="#333" stroke-width="0.22" >AZD5305 0.03 mg/kg  QD</text>
<line x1="323.50" y1="288.00" x2="334.00" y2="288.00" stroke="#7a7a7a" stroke-width="1.45" />
<circle cx="328.75" cy="288.00" r="1.8" fill="#7a7a7a"/>
<text transform="translate(338.80,290.30) scale(0.92,1)" font-size="8.152" text-anchor="start" font-weight="normal" fill="#333" stroke="#333" stroke-width="0.22" >Olaparib 100 mg/kg QD</text>
<rect x="50.4" y="442.20" width="41.80" height="132.30" fill="#d3d3d3"/>
<text x="53.80" y="449.80" font-size="8.3" text-anchor="start" font-weight="normal" fill="#333" stroke="#333" stroke-width="0.22" >PO</text>
<text x="53.80" y="459.80" font-size="8.3" text-anchor="start" font-weight="normal" fill="#333" stroke="#333" stroke-width="0.22" >dosing</text>
<text transform="translate(16.70,506.50) rotate(-90) scale(1.06,1)" font-size="7.830" text-anchor="middle" fill="#333" stroke="#333" stroke-width="0.22">Tumor volume [cm<tspan font-size="4.85" dy="-3.6">3</tspan><tspan dy="3.6">]</tspan></text>
<text transform="translate(26.70,506.50) rotate(-90) scale(1.06,1)" font-size="7.830" text-anchor="middle" fill="#333" stroke="#333" stroke-width="0.22">Geomean ±SEM</text>
<line x1="50.40" y1="442.20" x2="50.40" y2="574.50" stroke="#444444" stroke-width="0.9" />
<line x1="48.00" y1="442.20" x2="50.40" y2="442.20" stroke="#444444" stroke-width="0.9" />
<text x="46.80" y="445.60" font-size="8.2" text-anchor="end" font-weight="normal" fill="#333" stroke="#333" stroke-width="0.22" >1.5</text>
<line x1="48.00" y1="486.30" x2="50.40" y2="486.30" stroke="#444444" stroke-width="0.9" />
<text x="46.80" y="489.70" font-size="8.2" text-anchor="end" font-weight="normal" fill="#333" stroke="#333" stroke-width="0.22" >1.0</text>
<line x1="48.00" y1="530.40" x2="50.40" y2="530.40" stroke="#444444" stroke-width="0.9" />
<text x="46.80" y="533.80" font-size="8.2" text-anchor="end" font-weight="normal" fill="#333" stroke="#333" stroke-width="0.22" >0.5</text>
<line x1="48.00" y1="574.50" x2="50.40" y2="574.50" stroke="#444444" stroke-width="0.9" />
<text x="46.80" y="577.90" font-size="8.2" text-anchor="end" font-weight="normal" fill="#333" stroke="#333" stroke-width="0.22" >0.0</text>
<line x1="50.40" y1="574.50" x2="228.40" y2="574.50" stroke="#444444" stroke-width="0.9" />
<line x1="50.40" y1="574.50" x2="50.40" y2="576.90" stroke="#444444" stroke-width="0.9" />
<text x="50.40" y="587.00" font-size="8.1" text-anchor="middle" font-weight="normal" fill="#333" stroke="#333" stroke-width="0.22" >0</text>
<line x1="67.06" y1="574.50" x2="67.06" y2="576.90" stroke="#444444" stroke-width="0.9" />
<text x="67.06" y="587.00" font-size="8.1" text-anchor="middle" font-weight="normal" fill="#333" stroke="#333" stroke-width="0.22" >14</text>
<line x1="83.72" y1="574.50" x2="83.72" y2="576.90" stroke="#444444" stroke-width="0.9" />
<text x="83.72" y="587.00" font-size="8.1" text-anchor="middle" font-weight="normal" fill="#333" stroke="#333" stroke-width="0.22" >28</text>
<line x1="100.38" y1="574.50" x2="100.38" y2="576.90" stroke="#444444" stroke-width="0.9" />
<text x="100.38" y="587.00" font-size="8.1" text-anchor="middle" font-weight="normal" fill="#333" stroke="#333" stroke-width="0.22" >42</text>
<line x1="117.04" y1="574.50" x2="117.04" y2="576.90" stroke="#444444" stroke-width="0.9" />
<text x="117.04" y="587.00" font-size="8.1" text-anchor="middle" font-weight="normal" fill="#333" stroke="#333" stroke-width="0.22" >56</text>
<line x1="133.70" y1="574.50" x2="133.70" y2="576.90" stroke="#444444" stroke-width="0.9" />
<text x="133.70" y="587.00" font-size="8.1" text-anchor="middle" font-weight="normal" fill="#333" stroke="#333" stroke-width="0.22" >70</text>
<line x1="150.36" y1="574.50" x2="150.36" y2="576.90" stroke="#444444" stroke-width="0.9" />
<text x="150.36" y="587.00" font-size="8.1" text-anchor="middle" font-weight="normal" fill="#333" stroke="#333" stroke-width="0.22" >84</text>
<line x1="167.02" y1="574.50" x2="167.02" y2="576.90" stroke="#444444" stroke-width="0.9" />
<text x="167.02" y="587.00" font-size="8.1" text-anchor="middle" font-weight="normal" fill="#333" stroke="#333" stroke-width="0.22" >98</text>
<line x1="183.68" y1="574.50" x2="183.68" y2="576.90" stroke="#444444" stroke-width="0.9" />
<text x="183.68" y="587.00" font-size="8.1" text-anchor="middle" font-weight="normal" fill="#333" stroke="#333" stroke-width="0.22" >112</text>
<line x1="200.34" y1="574.50" x2="200.34" y2="576.90" stroke="#444444" stroke-width="0.9" />
<text x="200.34" y="587.00" font-size="8.1" text-anchor="middle" font-weight="normal" fill="#333" stroke="#333" stroke-width="0.22" >126</text>
<line x1="217.00" y1="574.50" x2="217.00" y2="576.90" stroke="#444444" stroke-width="0.9" />
<text x="217.00" y="587.00" font-size="8.1" text-anchor="middle" font-weight="normal" fill="#333" stroke="#333" stroke-width="0.22" >140</text>
<text x="140.00" y="598.30" font-size="8.3" text-anchor="middle" font-weight="normal" fill="#333" stroke="#333" stroke-width="0.22" >Days of treatment</text>
<path d="M165.60 572.90 V570.30 M164.30 570.30 H166.90" stroke="#b0b0b0" stroke-width="0.8" fill="none"/>
<path d="M174.20 571.50 V566.00 M172.90 566.00 H175.50" stroke="#b0b0b0" stroke-width="0.8" fill="none"/>
<path d="M182.00 570.30 V562.50 M180.70 562.50 H183.30" stroke="#b0b0b0" stroke-width="0.8" fill="none"/>
<path d="M186.30 568.50 V558.20 M185.00 558.20 H187.60" stroke="#b0b0b0" stroke-width="0.8" fill="none"/>
<path d="M190.70 567.70 V556.00 M189.40 556.00 H192.00" stroke="#b0b0b0" stroke-width="0.8" fill="none"/>
<path d="M194.10 566.00 V548.70 M192.80 548.70 H195.40" stroke="#b0b0b0" stroke-width="0.8" fill="none"/>
<path d="M198.40 564.20 V541.70 M197.10 541.70 H199.70" stroke="#b0b0b0" stroke-width="0.8" fill="none"/>
<path d="M202.20 555.20 V526.00 M200.90 526.00 H203.50" stroke="#b0b0b0" stroke-width="0.8" fill="none"/>
<path d="M207.10 564.20 V511.40 M205.80 511.40 H208.40" stroke="#b0b0b0" stroke-width="0.8" fill="none"/>
<path d="M211.40 561.60 V488.30 M210.10 488.30 H212.70" stroke="#b0b0b0" stroke-width="0.8" fill="none"/>
<path d="M215.70 560.40 V477.70 M214.40 477.70 H217.00" stroke="#b0b0b0" stroke-width="0.8" fill="none"/>
<path d="M219.20 557.30 V454.00 M217.90 454.00 H220.50" stroke="#b0b0b0" stroke-width="0.8" fill="none"/>
<path d="M224.00 567.70 V480.00 M222.70 480.00 H225.30" stroke="#b0b0b0" stroke-width="0.8" fill="none"/>
<path d="M227.90 566.00 V456.00 M226.60 456.00 H229.20" stroke="#b0b0b0" stroke-width="0.8" fill="none"/>
<polyline points="50.50,555.80 55.50,554.00 59.20,553.00 64.40,557.00 71.20,563.00 75.60,567.00 81.60,570.50 85.10,572.00 91.00,573.00 97.00,573.20 103.00,573.40 110.00,573.50 118.00,573.50 126.00,573.50 140.00,573.50 160.00,573.50 170.00,573.50 228.00,573.50" fill="none" stroke="#7a7a7a" stroke-width="1.0" stroke-linejoin="round" />
<circle cx="50.50" cy="555.80" r="1.1" fill="#7a7a7a"/>
<circle cx="55.50" cy="554.00" r="1.1" fill="#7a7a7a"/>
<circle cx="59.20" cy="553.00" r="1.1" fill="#7a7a7a"/>
<circle cx="64.40" cy="557.00" r="1.1" fill="#7a7a7a"/>
<circle cx="71.20" cy="563.00" r="1.1" fill="#7a7a7a"/>
<circle cx="75.60" cy="567.00" r="1.1" fill="#7a7a7a"/>
<circle cx="81.60" cy="570.50" r="1.1" fill="#7a7a7a"/>
<circle cx="85.10" cy="572.00" r="1.1" fill="#7a7a7a"/>
<circle cx="91.00" cy="573.00" r="1.1" fill="#7a7a7a"/>
<circle cx="97.00" cy="573.20" r="1.1" fill="#7a7a7a"/>
<circle cx="103.00" cy="573.40" r="1.1" fill="#7a7a7a"/>
<circle cx="110.00" cy="573.50" r="1.1" fill="#7a7a7a"/>
<circle cx="118.00" cy="573.50" r="1.1" fill="#7a7a7a"/>
<circle cx="126.00" cy="573.50" r="1.1" fill="#7a7a7a"/>
<circle cx="140.00" cy="573.50" r="1.1" fill="#7a7a7a"/>
<circle cx="160.00" cy="573.50" r="1.1" fill="#7a7a7a"/>
<circle cx="170.00" cy="573.50" r="1.1" fill="#7a7a7a"/>
<circle cx="228.00" cy="573.50" r="1.1" fill="#7a7a7a"/>
<polyline points="50.50,555.80 55.50,554.00 59.20,553.00 64.40,558.00 71.20,565.00 75.60,569.50 81.60,571.50 85.10,572.50 91.00,573.00 97.00,573.20" fill="none" stroke="#2f9fa5" stroke-width="1.2" stroke-linejoin="round" />
<circle cx="50.50" cy="555.80" r="1.3" fill="#2f9fa5"/>
<circle cx="55.50" cy="554.00" r="1.3" fill="#2f9fa5"/>
<circle cx="59.20" cy="553.00" r="1.3" fill="#2f9fa5"/>
<circle cx="64.40" cy="558.00" r="1.3" fill="#2f9fa5"/>
<circle cx="71.20" cy="565.00" r="1.3" fill="#2f9fa5"/>
<circle cx="75.60" cy="569.50" r="1.3" fill="#2f9fa5"/>
<circle cx="81.60" cy="571.50" r="1.3" fill="#2f9fa5"/>
<circle cx="85.10" cy="572.50" r="1.3" fill="#2f9fa5"/>
<circle cx="91.00" cy="573.00" r="1.3" fill="#2f9fa5"/>
<circle cx="97.00" cy="573.20" r="1.3" fill="#2f9fa5"/>
<polyline points="50.50,555.80 55.50,554.00 59.20,553.00 64.40,560.00 71.20,566.00 75.60,570.00 81.60,572.00 85.10,572.80 91.00,573.00 97.00,573.20" fill="none" stroke="#e9632f" stroke-width="1.2" stroke-linejoin="round" />
<circle cx="50.50" cy="555.80" r="1.3" fill="#e9632f"/>
<circle cx="55.50" cy="554.00" r="1.3" fill="#e9632f"/>
<circle cx="59.20" cy="553.00" r="1.3" fill="#e9632f"/>
<circle cx="64.40" cy="560.00" r="1.3" fill="#e9632f"/>
<circle cx="71.20" cy="566.00" r="1.3" fill="#e9632f"/>
<circle cx="75.60" cy="570.00" r="1.3" fill="#e9632f"/>
<circle cx="81.60" cy="572.00" r="1.3" fill="#e9632f"/>
<circle cx="85.10" cy="572.80" r="1.3" fill="#e9632f"/>
<circle cx="91.00" cy="573.00" r="1.3" fill="#e9632f"/>
<circle cx="97.00" cy="573.20" r="1.3" fill="#e9632f"/>
<polyline points="50.50,555.80 55.50,554.00 59.20,553.00 64.40,557.30 71.20,563.20 75.60,567.70 81.60,571.00 85.10,572.50 91.00,573.00 97.00,573.30 103.00,573.40" fill="none" stroke="#da3080" stroke-width="1.3" stroke-linejoin="round" />
<circle cx="50.50" cy="555.80" r="1.8" fill="#da3080"/>
<circle cx="55.50" cy="554.00" r="1.8" fill="#da3080"/>
<circle cx="59.20" cy="553.00" r="1.8" fill="#da3080"/>
<circle cx="64.40" cy="557.30" r="1.8" fill="#da3080"/>
<circle cx="71.20" cy="563.20" r="1.8" fill="#da3080"/>
<circle cx="75.60" cy="567.70" r="1.8" fill="#da3080"/>
<circle cx="81.60" cy="571.00" r="1.8" fill="#da3080"/>
<circle cx="85.10" cy="572.50" r="1.8" fill="#da3080"/>
<circle cx="91.00" cy="573.00" r="1.8" fill="#da3080"/>
<circle cx="97.00" cy="573.30" r="1.8" fill="#da3080"/>
<circle cx="103.00" cy="573.40" r="1.8" fill="#da3080"/>
<polyline points="50.50,555.80 55.50,554.00 59.20,553.00 64.40,563.20 71.20,568.50 75.60,571.50 81.60,572.50 85.10,573.00 91.00,573.20 96.20,573.20 101.40,573.20 106.60,573.20 111.80,573.20 117.00,573.20 122.20,573.20 127.40,573.20 132.60,573.20 137.80,573.20 143.00,573.20 148.20,573.20 153.40,573.20 158.60,573.20 163.80,573.20 169.00,573.20 174.20,573.20 179.40,573.20 184.60,573.20 189.80,573.20 195.00,573.20 200.20,573.20 205.40,573.20 210.60,573.20 215.80,573.20 221.00,573.20 226.20,573.20" fill="none" stroke="#2f4494" stroke-width="1.3" stroke-linejoin="round" />
<circle cx="50.50" cy="555.80" r="1.8" fill="#2f4494"/>
<circle cx="55.50" cy="554.00" r="1.8" fill="#2f4494"/>
<circle cx="59.20" cy="553.00" r="1.8" fill="#2f4494"/>
<circle cx="64.40" cy="563.20" r="1.8" fill="#2f4494"/>
<circle cx="71.20" cy="568.50" r="1.8" fill="#2f4494"/>
<circle cx="75.60" cy="571.50" r="1.8" fill="#2f4494"/>
<circle cx="81.60" cy="572.50" r="1.8" fill="#2f4494"/>
<circle cx="85.10" cy="573.00" r="1.8" fill="#2f4494"/>
<circle cx="91.00" cy="573.20" r="1.8" fill="#2f4494"/>
<circle cx="96.20" cy="573.20" r="1.8" fill="#2f4494"/>
<circle cx="101.40" cy="573.20" r="1.8" fill="#2f4494"/>
<circle cx="106.60" cy="573.20" r="1.8" fill="#2f4494"/>
<circle cx="111.80" cy="573.20" r="1.8" fill="#2f4494"/>
<circle cx="117.00" cy="573.20" r="1.8" fill="#2f4494"/>
<circle cx="122.20" cy="573.20" r="1.8" fill="#2f4494"/>
<circle cx="127.40" cy="573.20" r="1.8" fill="#2f4494"/>
<circle cx="132.60" cy="573.20" r="1.8" fill="#2f4494"/>
<circle cx="137.80" cy="573.20" r="1.8" fill="#2f4494"/>
<circle cx="143.00" cy="573.20" r="1.8" fill="#2f4494"/>
<circle cx="148.20" cy="573.20" r="1.8" fill="#2f4494"/>
<circle cx="153.40" cy="573.20" r="1.8" fill="#2f4494"/>
<circle cx="158.60" cy="573.20" r="1.8" fill="#2f4494"/>
<circle cx="163.80" cy="573.20" r="1.8" fill="#2f4494"/>
<circle cx="169.00" cy="573.20" r="1.8" fill="#2f4494"/>
<circle cx="174.20" cy="573.20" r="1.8" fill="#2f4494"/>
<circle cx="179.40" cy="573.20" r="1.8" fill="#2f4494"/>
<circle cx="184.60" cy="573.20" r="1.8" fill="#2f4494"/>
<circle cx="189.80" cy="573.20" r="1.8" fill="#2f4494"/>
<circle cx="195.00" cy="573.20" r="1.8" fill="#2f4494"/>
<circle cx="200.20" cy="573.20" r="1.8" fill="#2f4494"/>
<circle cx="205.40" cy="573.20" r="1.8" fill="#2f4494"/>
<circle cx="210.60" cy="573.20" r="1.8" fill="#2f4494"/>
<circle cx="215.80" cy="573.20" r="1.8" fill="#2f4494"/>
<circle cx="221.00" cy="573.20" r="1.8" fill="#2f4494"/>
<circle cx="226.20" cy="573.20" r="1.8" fill="#2f4494"/>
<path d="M64.40 549.30 V553.30 M62.90 549.30 H65.90 M62.90 553.30 H65.90" stroke="#6870a8" stroke-width="0.8" fill="none"/>
<path d="M71.20 546.80 V552.80 M69.70 546.80 H72.70 M69.70 552.80 H72.70" stroke="#6870a8" stroke-width="0.8" fill="none"/>
<path d="M126.90 545.20 V553.20 M125.40 545.20 H128.40 M125.40 553.20 H128.40" stroke="#6870a8" stroke-width="0.8" fill="none"/>
<polyline points="50.50,555.80 55.50,554.00 59.20,553.00 64.40,551.30 71.20,549.80 75.60,555.80 80.90,558.00 85.40,561.50 89.10,563.20 96.60,565.50 102.50,567.70 106.20,566.50 110.50,564.90 115.40,563.80 118.50,561.20 123.10,560.80 126.90,549.20" fill="none" stroke="#1d2470" stroke-width="1.3" stroke-linejoin="round" stroke-dasharray="3.5,2.3"/>
<circle cx="50.50" cy="555.80" r="2.1" fill="#1d2470"/>
<circle cx="55.50" cy="554.00" r="2.1" fill="#1d2470"/>
<circle cx="59.20" cy="553.00" r="2.1" fill="#1d2470"/>
<circle cx="64.40" cy="551.30" r="2.1" fill="#1d2470"/>
<circle cx="71.20" cy="549.80" r="2.1" fill="#1d2470"/>
<circle cx="75.60" cy="555.80" r="2.1" fill="#1d2470"/>
<circle cx="80.90" cy="558.00" r="2.1" fill="#1d2470"/>
<circle cx="85.40" cy="561.50" r="2.1" fill="#1d2470"/>
<circle cx="89.10" cy="563.20" r="2.1" fill="#1d2470"/>
<circle cx="96.60" cy="565.50" r="2.1" fill="#1d2470"/>
<circle cx="102.50" cy="567.70" r="2.1" fill="#1d2470"/>
<circle cx="106.20" cy="566.50" r="2.1" fill="#1d2470"/>
<circle cx="110.50" cy="564.90" r="2.1" fill="#1d2470"/>
<circle cx="115.40" cy="563.80" r="2.1" fill="#1d2470"/>
<circle cx="118.50" cy="561.20" r="2.1" fill="#1d2470"/>
<circle cx="123.10" cy="560.80" r="2.1" fill="#1d2470"/>
<circle cx="126.90" cy="549.20" r="2.1" fill="#1d2470"/>
<path d="M55.50 549.50 V553.50 M54.00 549.50 H57.00 M54.00 553.50 H57.00" stroke="#7ccb8f" stroke-width="0.8" fill="none"/>
<path d="M59.20 547.00 V551.00 M57.70 547.00 H60.70 M57.70 551.00 H60.70" stroke="#7ccb8f" stroke-width="0.8" fill="none"/>
<path d="M64.40 543.50 V547.50 M62.90 543.50 H65.90 M62.90 547.50 H65.90" stroke="#7ccb8f" stroke-width="0.8" fill="none"/>
<path d="M71.90 527.10 V535.10 M70.40 527.10 H73.40 M70.40 535.10 H73.40" stroke="#7ccb8f" stroke-width="0.8" fill="none"/>
<path d="M74.90 525.60 V533.60 M73.40 525.60 H76.40 M73.40 533.60 H76.40" stroke="#7ccb8f" stroke-width="0.8" fill="none"/>
<path d="M81.60 511.20 V521.20 M80.10 511.20 H83.10 M80.10 521.20 H83.10" stroke="#7ccb8f" stroke-width="0.8" fill="none"/>
<path d="M85.10 508.90 V518.90 M83.60 508.90 H86.60 M83.60 518.90 H86.60" stroke="#7ccb8f" stroke-width="0.8" fill="none"/>
<path d="M89.80 503.70 V513.70 M88.30 503.70 H91.30 M88.30 513.70 H91.30" stroke="#7ccb8f" stroke-width="0.8" fill="none"/>
<path d="M91.30 498.00 V508.00 M89.80 498.00 H92.80 M89.80 508.00 H92.80" stroke="#7ccb8f" stroke-width="0.8" fill="none"/>
<polyline points="50.50,555.80 55.50,551.50 59.20,549.00 64.40,545.50 71.90,531.10 74.90,529.60 81.60,516.20 85.10,513.90 89.80,508.70 91.30,503.00" fill="none" stroke="#3aab62" stroke-width="1.3" stroke-linejoin="round" />
<circle cx="50.50" cy="555.80" r="1.8" fill="#3aab62"/>
<circle cx="55.50" cy="551.50" r="1.8" fill="#3aab62"/>
<circle cx="59.20" cy="549.00" r="1.8" fill="#3aab62"/>
<circle cx="64.40" cy="545.50" r="1.8" fill="#3aab62"/>
<circle cx="71.90" cy="531.10" r="1.8" fill="#3aab62"/>
<circle cx="74.90" cy="529.60" r="1.8" fill="#3aab62"/>
<circle cx="81.60" cy="516.20" r="1.8" fill="#3aab62"/>
<circle cx="85.10" cy="513.90" r="1.8" fill="#3aab62"/>
<circle cx="89.80" cy="508.70" r="1.8" fill="#3aab62"/>
<circle cx="91.30" cy="503.00" r="1.8" fill="#3aab62"/>
<path d="M50.50 553.80 V557.80 M49.00 553.80 H52.00 M49.00 557.80 H52.00" stroke="#444444" stroke-width="0.8" fill="none"/>
<path d="M55.50 552.00 V556.00 M54.00 552.00 H57.00 M54.00 556.00 H57.00" stroke="#444444" stroke-width="0.8" fill="none"/>
<path d="M59.20 550.80 V554.80 M57.70 550.80 H60.70 M57.70 554.80 H60.70" stroke="#444444" stroke-width="0.8" fill="none"/>
<path d="M64.90 543.80 V549.80 M63.40 543.80 H66.40 M63.40 549.80 H66.40" stroke="#444444" stroke-width="0.8" fill="none"/>
<path d="M72.70 531.60 V539.60 M71.20 531.60 H74.20 M71.20 539.60 H74.20" stroke="#444444" stroke-width="0.8" fill="none"/>
<path d="M75.60 528.60 V536.60 M74.10 528.60 H77.10 M74.10 536.60 H77.10" stroke="#444444" stroke-width="0.8" fill="none"/>
<path d="M81.60 516.60 V524.60 M80.10 516.60 H83.10 M80.10 524.60 H83.10" stroke="#444444" stroke-width="0.8" fill="none"/>
<path d="M85.10 515.90 V523.90 M83.60 515.90 H86.60 M83.60 523.90 H86.60" stroke="#444444" stroke-width="0.8" fill="none"/>
<path d="M91.30 492.00 V509.00 M89.80 492.00 H92.80 M89.80 509.00 H92.80" stroke="#444444" stroke-width="0.8" fill="none"/>
<polyline points="50.50,555.80 55.50,554.00 59.20,552.80 64.90,546.80 72.70,535.60 75.60,532.60 81.60,520.60 85.10,519.90 91.30,500.50" fill="none" stroke="#111111" stroke-width="1.3" stroke-linejoin="round" />
<circle cx="50.50" cy="555.80" r="2.2" fill="#111111"/>
<circle cx="55.50" cy="554.00" r="2.2" fill="#111111"/>
<circle cx="59.20" cy="552.80" r="2.2" fill="#111111"/>
<circle cx="64.90" cy="546.80" r="2.2" fill="#111111"/>
<circle cx="72.70" cy="535.60" r="2.2" fill="#111111"/>
<circle cx="75.60" cy="532.60" r="2.2" fill="#111111"/>
<circle cx="81.60" cy="520.60" r="2.2" fill="#111111"/>
<circle cx="85.10" cy="519.90" r="2.2" fill="#111111"/>
<circle cx="91.30" cy="500.50" r="2.2" fill="#111111"/>
<polyline points="160.00,573.30 165.60,572.90 174.20,571.50 182.00,570.30 186.30,568.50 190.70,567.70 194.10,566.00 198.40,564.20 202.20,555.20 207.10,564.20 211.40,561.60 215.70,560.40 219.20,557.30 224.00,567.70 227.90,566.00" fill="none" stroke="#6e6e6e" stroke-width="1.0"/>
<circle cx="165.60" cy="572.90" r="1.0" fill="#6e6e6e"/>
<circle cx="174.20" cy="571.50" r="1.0" fill="#6e6e6e"/>
<circle cx="182.00" cy="570.30" r="1.0" fill="#6e6e6e"/>
<circle cx="186.30" cy="568.50" r="1.0" fill="#6e6e6e"/>
<circle cx="190.70" cy="567.70" r="1.0" fill="#6e6e6e"/>
<circle cx="194.10" cy="566.00" r="1.0" fill="#6e6e6e"/>
<circle cx="198.40" cy="564.20" r="1.0" fill="#6e6e6e"/>
<circle cx="202.20" cy="555.20" r="1.0" fill="#6e6e6e"/>
<circle cx="207.10" cy="564.20" r="1.0" fill="#6e6e6e"/>
<circle cx="211.40" cy="561.60" r="1.0" fill="#6e6e6e"/>
<circle cx="215.70" cy="560.40" r="1.0" fill="#6e6e6e"/>
<circle cx="219.20" cy="557.30" r="1.0" fill="#6e6e6e"/>
<circle cx="224.00" cy="567.70" r="1.0" fill="#6e6e6e"/>
<circle cx="227.90" cy="566.00" r="1.0" fill="#6e6e6e"/>
<line x1="95.70" y1="444.00" x2="107.30" y2="444.00" stroke="#111111" stroke-width="1.45" />
<circle cx="101.50" cy="444.00" r="2.1" fill="#111111"/>
<text transform="translate(112.30,446.80) scale(0.92,1)" font-size="8.152" text-anchor="start" font-weight="normal" fill="#333" stroke="#333" stroke-width="0.22" >Vehicle</text>
<line x1="95.70" y1="453.42" x2="107.30" y2="453.42" stroke="#2f4494" stroke-width="1.45" />
<circle cx="101.50" cy="453.42" r="1.8" fill="#2f4494"/>
<text transform="translate(112.30,456.22) scale(0.92,1)" font-size="8.152" text-anchor="start" font-weight="normal" fill="#333" stroke="#333" stroke-width="0.22" >AZD5305 10 mg/kg QD</text>
<line x1="95.70" y1="462.84" x2="107.30" y2="462.84" stroke="#e9632f" stroke-width="1.45" />
<circle cx="101.50" cy="462.84" r="1.8" fill="#e9632f"/>
<text transform="translate(112.30,465.64) scale(0.92,1)" font-size="8.152" text-anchor="start" font-weight="normal" fill="#333" stroke="#333" stroke-width="0.22" >AZD5305 1 mg/kg QD</text>
<line x1="95.70" y1="472.26" x2="107.30" y2="472.26" stroke="#2f9fa5" stroke-width="1.45" />
<circle cx="101.50" cy="472.26" r="1.8" fill="#2f9fa5"/>
<text transform="translate(112.30,475.06) scale(0.92,1)" font-size="8.152" text-anchor="start" font-weight="normal" fill="#333" stroke="#333" stroke-width="0.22" >AZD5305 0.3 mg/kg QD</text>
<line x1="95.70" y1="481.68" x2="107.30" y2="481.68" stroke="#da3080" stroke-width="1.45" />
<circle cx="101.50" cy="481.68" r="1.8" fill="#da3080"/>
<text transform="translate(112.30,484.48) scale(0.92,1)" font-size="8.152" text-anchor="start" font-weight="normal" fill="#333" stroke="#333" stroke-width="0.22" >AZD5305 0.1 mg/kg QD</text>
<line x1="95.70" y1="491.10" x2="107.30" y2="491.10" stroke="#1d2470" stroke-width="1.45" stroke-dasharray="2.5,2"/>
<circle cx="101.50" cy="491.10" r="1.8" fill="#1d2470"/>
<text transform="translate(112.30,493.90) scale(0.92,1)" font-size="8.152" text-anchor="start" font-weight="normal" fill="#333" stroke="#333" stroke-width="0.22" >AZD5305 0.03 mg/kg QD</text>
<line x1="95.70" y1="500.52" x2="107.30" y2="500.52" stroke="#3aab62" stroke-width="1.45" />
<circle cx="101.50" cy="500.52" r="1.8" fill="#3aab62"/>
<text transform="translate(112.30,503.32) scale(0.92,1)" font-size="8.152" text-anchor="start" font-weight="normal" fill="#333" stroke="#333" stroke-width="0.22" >AZD5305 0.01 mg/kg QD</text>
<line x1="95.70" y1="509.94" x2="107.30" y2="509.94" stroke="#7a7a7a" stroke-width="1.45" />
<circle cx="101.50" cy="509.94" r="1.8" fill="#7a7a7a"/>
<text transform="translate(112.30,512.74) scale(0.92,1)" font-size="8.152" text-anchor="start" font-weight="normal" fill="#333" stroke="#333" stroke-width="0.22" >Olaparib 100 mg/kg QD</text>
<rect x="320.6" y="441.80" width="78.60" height="132.60" fill="#d3d3d3"/>
<text x="324.40" y="452.30" font-size="8.3" text-anchor="start" font-weight="normal" fill="#333" stroke="#333" stroke-width="0.22" >PO dosing</text>
<text transform="translate(278.40,508.00) rotate(-90) scale(1.06,1)" font-size="7.925" text-anchor="middle" fill="#333" stroke="#333" stroke-width="0.22">Tumor volume [mm<tspan font-size="4.91" dy="-3.6">3</tspan><tspan dy="3.6">]</tspan></text>
<text transform="translate(290.00,508.00) rotate(-90) scale(1.06,1)" font-size="7.925" text-anchor="middle" fill="#333" stroke="#333" stroke-width="0.22">Geomean ±SEM</text>
<line x1="320.60" y1="441.80" x2="320.60" y2="574.40" stroke="#444444" stroke-width="0.9" />
<line x1="318.20" y1="441.80" x2="320.60" y2="441.80" stroke="#444444" stroke-width="0.9" />
<text transform="translate(317.00,445.20) scale(0.9,1)" font-size="9.111" text-anchor="end" font-weight="normal" fill="#333" stroke="#333" stroke-width="0.22" >1,500</text>
<line x1="318.20" y1="486.00" x2="320.60" y2="486.00" stroke="#444444" stroke-width="0.9" />
<text transform="translate(317.00,489.40) scale(0.9,1)" font-size="9.111" text-anchor="end" font-weight="normal" fill="#333" stroke="#333" stroke-width="0.22" >1,000</text>
<line x1="318.20" y1="530.20" x2="320.60" y2="530.20" stroke="#444444" stroke-width="0.9" />
<text x="317.00" y="533.60" font-size="8.2" text-anchor="end" font-weight="normal" fill="#333" stroke="#333" stroke-width="0.22" >500</text>
<line x1="318.20" y1="574.40" x2="320.60" y2="574.40" stroke="#444444" stroke-width="0.9" />
<text x="317.00" y="577.80" font-size="8.2" text-anchor="end" font-weight="normal" fill="#333" stroke="#333" stroke-width="0.22" >0</text>
<line x1="320.60" y1="574.40" x2="498.00" y2="574.40" stroke="#444444" stroke-width="0.9" />
<line x1="320.60" y1="574.40" x2="320.60" y2="576.80" stroke="#444444" stroke-width="0.9" />
<text x="320.60" y="586.00" font-size="8.2" text-anchor="middle" font-weight="normal" fill="#333" stroke="#333" stroke-width="0.22" >0</text>
<line x1="338.35" y1="574.40" x2="338.35" y2="576.80" stroke="#444444" stroke-width="0.9" />
<text x="338.35" y="586.00" font-size="8.2" text-anchor="middle" font-weight="normal" fill="#333" stroke="#333" stroke-width="0.22" >7</text>
<line x1="356.09" y1="574.40" x2="356.09" y2="576.80" stroke="#444444" stroke-width="0.9" />
<text x="356.09" y="586.00" font-size="8.2" text-anchor="middle" font-weight="normal" fill="#333" stroke="#333" stroke-width="0.22" >14</text>
<line x1="373.84" y1="574.40" x2="373.84" y2="576.80" stroke="#444444" stroke-width="0.9" />
<text x="373.84" y="586.00" font-size="8.2" text-anchor="middle" font-weight="normal" fill="#333" stroke="#333" stroke-width="0.22" >21</text>
<line x1="391.58" y1="574.40" x2="391.58" y2="576.80" stroke="#444444" stroke-width="0.9" />
<text x="391.58" y="586.00" font-size="8.2" text-anchor="middle" font-weight="normal" fill="#333" stroke="#333" stroke-width="0.22" >28</text>
<line x1="409.33" y1="574.40" x2="409.33" y2="576.80" stroke="#444444" stroke-width="0.9" />
<text x="409.33" y="586.00" font-size="8.2" text-anchor="middle" font-weight="normal" fill="#333" stroke="#333" stroke-width="0.22" >35</text>
<line x1="427.07" y1="574.40" x2="427.07" y2="576.80" stroke="#444444" stroke-width="0.9" />
<text x="427.07" y="586.00" font-size="8.2" text-anchor="middle" font-weight="normal" fill="#333" stroke="#333" stroke-width="0.22" >42</text>
<line x1="444.82" y1="574.40" x2="444.82" y2="576.80" stroke="#444444" stroke-width="0.9" />
<text x="444.82" y="586.00" font-size="8.2" text-anchor="middle" font-weight="normal" fill="#333" stroke="#333" stroke-width="0.22" >49</text>
<line x1="462.56" y1="574.40" x2="462.56" y2="576.80" stroke="#444444" stroke-width="0.9" />
<text x="462.56" y="586.00" font-size="8.2" text-anchor="middle" font-weight="normal" fill="#333" stroke="#333" stroke-width="0.22" >56</text>
<line x1="480.31" y1="574.40" x2="480.31" y2="576.80" stroke="#444444" stroke-width="0.9" />
<text x="480.31" y="586.00" font-size="8.2" text-anchor="middle" font-weight="normal" fill="#333" stroke="#333" stroke-width="0.22" >63</text>
<line x1="498.05" y1="574.40" x2="498.05" y2="576.80" stroke="#444444" stroke-width="0.9" />
<text x="498.05" y="586.00" font-size="8.2" text-anchor="middle" font-weight="normal" fill="#333" stroke="#333" stroke-width="0.22" >70</text>
<text x="417.00" y="597.50" font-size="8.3" text-anchor="middle" font-weight="normal" fill="#333" stroke="#333" stroke-width="0.22" >Days of treatment</text>
<path d="M320.60 559.30 V563.30 M319.10 559.30 H322.10 M319.10 563.30 H322.10" stroke="#f3a27c" stroke-width="0.8" fill="none"/>
<path d="M328.21 552.50 V556.50 M326.71 552.50 H329.71 M326.71 556.50 H329.71" stroke="#f3a27c" stroke-width="0.8" fill="none"/>
<path d="M338.35 550.40 V554.40 M336.85 550.40 H339.85 M336.85 554.40 H339.85" stroke="#f3a27c" stroke-width="0.8" fill="none"/>
<path d="M345.95 554.00 V558.00 M344.45 554.00 H347.45 M344.45 558.00 H347.45" stroke="#f3a27c" stroke-width="0.8" fill="none"/>
<path d="M356.09 557.80 V561.80 M354.59 557.80 H357.59 M354.59 561.80 H357.59" stroke="#f3a27c" stroke-width="0.8" fill="none"/>
<path d="M363.70 558.70 V562.70 M362.20 558.70 H365.20 M362.20 562.70 H365.20" stroke="#f3a27c" stroke-width="0.8" fill="none"/>
<path d="M373.84 563.10 V567.10 M372.34 563.10 H375.34 M372.34 567.10 H375.34" stroke="#f3a27c" stroke-width="0.8" fill="none"/>
<path d="M381.44 565.20 V569.20 M379.94 565.20 H382.94 M379.94 569.20 H382.94" stroke="#f3a27c" stroke-width="0.8" fill="none"/>
<path d="M391.58 565.20 V569.20 M390.08 565.20 H393.08 M390.08 569.20 H393.08" stroke="#f3a27c" stroke-width="0.8" fill="none"/>
<path d="M399.19 565.80 V569.80 M397.69 565.80 H400.69 M397.69 569.80 H400.69" stroke="#f3a27c" stroke-width="0.8" fill="none"/>
<path d="M409.33 568.50 V572.50 M407.83 568.50 H410.83 M407.83 572.50 H410.83" stroke="#f3a27c" stroke-width="0.8" fill="none"/>
<path d="M432.14 566.75 V570.75 M430.64 566.75 H433.64 M430.64 570.75 H433.64" stroke="#f3a27c" stroke-width="0.8" fill="none"/>
<path d="M449.88 568.50 V572.50 M448.38 568.50 H451.38 M448.38 572.50 H451.38" stroke="#f3a27c" stroke-width="0.8" fill="none"/>
<path d="M462.56 565.00 V569.00 M461.06 565.00 H464.06 M461.06 569.00 H464.06" stroke="#f3a27c" stroke-width="0.8" fill="none"/>
<path d="M485.38 568.00 V572.00 M483.88 568.00 H486.88 M483.88 572.00 H486.88" stroke="#f3a27c" stroke-width="0.8" fill="none"/>
<polyline points="320.60,561.30 328.21,554.50 338.35,552.40 345.95,556.00 356.09,559.80 363.70,560.70 373.84,565.10 381.44,567.20 391.58,567.20 399.19,567.80 409.33,570.50 432.14,568.75 449.88,570.50 462.56,567.00 485.38,570.00" fill="none" stroke="#e9632f" stroke-width="1.3" stroke-linejoin="round" />
<circle cx="320.60" cy="561.30" r="1.75" fill="#e9632f"/>
<circle cx="328.21" cy="554.50" r="1.75" fill="#e9632f"/>
<circle cx="338.35" cy="552.40" r="1.75" fill="#e9632f"/>
<circle cx="345.95" cy="556.00" r="1.75" fill="#e9632f"/>
<circle cx="356.09" cy="559.80" r="1.75" fill="#e9632f"/>
<circle cx="363.70" cy="560.70" r="1.75" fill="#e9632f"/>
<circle cx="373.84" cy="565.10" r="1.75" fill="#e9632f"/>
<circle cx="381.44" cy="567.20" r="1.75" fill="#e9632f"/>
<circle cx="391.58" cy="567.20" r="1.75" fill="#e9632f"/>
<circle cx="399.19" cy="567.80" r="1.75" fill="#e9632f"/>
<circle cx="409.33" cy="570.50" r="1.75" fill="#e9632f"/>
<circle cx="432.14" cy="568.75" r="1.75" fill="#e9632f"/>
<circle cx="449.88" cy="570.50" r="1.75" fill="#e9632f"/>
<circle cx="462.56" cy="567.00" r="1.75" fill="#e9632f"/>
<circle cx="485.38" cy="570.00" r="1.75" fill="#e9632f"/>
<path d="M320.60 559.30 V563.30 M319.10 559.30 H322.10 M319.10 563.30 H322.10" stroke="#6d80b8" stroke-width="0.8" fill="none"/>
<path d="M328.21 552.50 V556.50 M326.71 552.50 H329.71 M326.71 556.50 H329.71" stroke="#6d80b8" stroke-width="0.8" fill="none"/>
<path d="M338.35 552.50 V556.50 M336.85 552.50 H339.85 M336.85 556.50 H339.85" stroke="#6d80b8" stroke-width="0.8" fill="none"/>
<path d="M345.95 558.30 V562.30 M344.45 558.30 H347.45 M344.45 562.30 H347.45" stroke="#6d80b8" stroke-width="0.8" fill="none"/>
<path d="M356.09 564.00 V568.00 M354.59 564.00 H357.59 M354.59 568.00 H357.59" stroke="#6d80b8" stroke-width="0.8" fill="none"/>
<path d="M363.70 564.00 V568.00 M362.20 564.00 H365.20 M362.20 568.00 H365.20" stroke="#6d80b8" stroke-width="0.8" fill="none"/>
<path d="M373.84 567.30 V571.30 M372.34 567.30 H375.34 M372.34 571.30 H375.34" stroke="#6d80b8" stroke-width="0.8" fill="none"/>
<path d="M381.44 568.80 V572.80 M379.94 568.80 H382.94 M379.94 572.80 H382.94" stroke="#6d80b8" stroke-width="0.8" fill="none"/>
<path d="M391.58 568.80 V572.80 M390.08 568.80 H393.08 M390.08 572.80 H393.08" stroke="#6d80b8" stroke-width="0.8" fill="none"/>
<path d="M399.19 568.80 V572.80 M397.69 568.80 H400.69 M397.69 572.80 H400.69" stroke="#6d80b8" stroke-width="0.8" fill="none"/>
<path d="M409.33 569.00 V573.00 M407.83 569.00 H410.83 M407.83 573.00 H410.83" stroke="#6d80b8" stroke-width="0.8" fill="none"/>
<path d="M432.14 570.00 V574.00 M430.64 570.00 H433.64 M430.64 574.00 H433.64" stroke="#6d80b8" stroke-width="0.8" fill="none"/>
<path d="M449.88 570.00 V574.00 M448.38 570.00 H451.38 M448.38 574.00 H451.38" stroke="#6d80b8" stroke-width="0.8" fill="none"/>
<path d="M462.56 568.00 V572.00 M461.06 568.00 H464.06 M461.06 572.00 H464.06" stroke="#6d80b8" stroke-width="0.8" fill="none"/>
<path d="M485.38 568.50 V572.50 M483.88 568.50 H486.88 M483.88 572.50 H486.88" stroke="#6d80b8" stroke-width="0.8" fill="none"/>
<polyline points="320.60,561.30 328.21,554.50 338.35,554.50 345.95,560.30 356.09,566.00 363.70,566.00 373.84,569.30 381.44,570.80 391.58,570.80 399.19,570.80 409.33,571.00 432.14,572.00 449.88,572.00 462.56,570.00 485.38,570.50" fill="none" stroke="#2f4494" stroke-width="1.3" stroke-linejoin="round" />
<circle cx="320.60" cy="561.30" r="1.75" fill="#2f4494"/>
<circle cx="328.21" cy="554.50" r="1.75" fill="#2f4494"/>
<circle cx="338.35" cy="554.50" r="1.75" fill="#2f4494"/>
<circle cx="345.95" cy="560.30" r="1.75" fill="#2f4494"/>
<circle cx="356.09" cy="566.00" r="1.75" fill="#2f4494"/>
<circle cx="363.70" cy="566.00" r="1.75" fill="#2f4494"/>
<circle cx="373.84" cy="569.30" r="1.75" fill="#2f4494"/>
<circle cx="381.44" cy="570.80" r="1.75" fill="#2f4494"/>
<circle cx="391.58" cy="570.80" r="1.75" fill="#2f4494"/>
<circle cx="399.19" cy="570.80" r="1.75" fill="#2f4494"/>
<circle cx="409.33" cy="571.00" r="1.75" fill="#2f4494"/>
<circle cx="432.14" cy="572.00" r="1.75" fill="#2f4494"/>
<circle cx="449.88" cy="572.00" r="1.75" fill="#2f4494"/>
<circle cx="462.56" cy="570.00" r="1.75" fill="#2f4494"/>
<circle cx="485.38" cy="570.50" r="1.75" fill="#2f4494"/>
<path d="M320.60 559.30 V563.30 M319.10 559.30 H322.10 M319.10 563.30 H322.10" stroke="#a8a8a8" stroke-width="0.8" fill="none"/>
<path d="M328.21 551.00 V557.00 M326.71 551.00 H329.71 M326.71 557.00 H329.71" stroke="#a8a8a8" stroke-width="0.8" fill="none"/>
<path d="M338.35 545.00 V551.00 M336.85 545.00 H339.85 M336.85 551.00 H339.85" stroke="#a8a8a8" stroke-width="0.8" fill="none"/>
<path d="M345.95 539.00 V547.00 M344.45 539.00 H347.45 M344.45 547.00 H347.45" stroke="#a8a8a8" stroke-width="0.8" fill="none"/>
<path d="M356.09 536.00 V546.00 M354.59 536.00 H357.59 M354.59 546.00 H357.59" stroke="#a8a8a8" stroke-width="0.8" fill="none"/>
<path d="M363.70 530.00 V542.00 M362.20 530.00 H365.20 M362.20 542.00 H365.20" stroke="#a8a8a8" stroke-width="0.8" fill="none"/>
<path d="M373.84 522.00 V538.00 M372.34 522.00 H375.34 M372.34 538.00 H375.34" stroke="#a8a8a8" stroke-width="0.8" fill="none"/>
<path d="M381.44 517.00 V535.00 M379.94 517.00 H382.94 M379.94 535.00 H382.94" stroke="#a8a8a8" stroke-width="0.8" fill="none"/>
<path d="M391.58 513.00 V533.00 M390.08 513.00 H393.08 M390.08 533.00 H393.08" stroke="#a8a8a8" stroke-width="0.8" fill="none"/>
<path d="M399.19 509.00 V531.00 M397.69 509.00 H400.69 M397.69 531.00 H400.69" stroke="#a8a8a8" stroke-width="0.8" fill="none"/>
<path d="M412.00 503.30 V521.30 M410.50 503.30 H413.50 M410.50 521.30 H413.50" stroke="#a8a8a8" stroke-width="0.8" fill="none"/>
<path d="M432.00 494.50 V515.50 M430.50 494.50 H433.50 M430.50 515.50 H433.50" stroke="#a8a8a8" stroke-width="0.8" fill="none"/>
<path d="M450.00 465.50 V494.50 M448.50 465.50 H451.50 M448.50 494.50 H451.50" stroke="#a8a8a8" stroke-width="0.8" fill="none"/>
<polyline points="320.60,561.30 328.21,554.00 338.35,548.00 345.95,543.00 356.09,541.00 363.70,536.00 373.84,530.00 381.44,526.00 391.58,523.00 399.19,520.00 412.00,512.30 432.00,505.00 450.00,480.00" fill="none" stroke="#7a7a7a" stroke-width="1.0" stroke-linejoin="round" />
<circle cx="320.60" cy="561.30" r="1.2" fill="#7a7a7a"/>
<circle cx="328.21" cy="554.00" r="1.2" fill="#7a7a7a"/>
<circle cx="338.35" cy="548.00" r="1.2" fill="#7a7a7a"/>
<circle cx="345.95" cy="543.00" r="1.2" fill="#7a7a7a"/>
<circle cx="356.09" cy="541.00" r="1.2" fill="#7a7a7a"/>
<circle cx="363.70" cy="536.00" r="1.2" fill="#7a7a7a"/>
<circle cx="373.84" cy="530.00" r="1.2" fill="#7a7a7a"/>
<circle cx="381.44" cy="526.00" r="1.2" fill="#7a7a7a"/>
<circle cx="391.58" cy="523.00" r="1.2" fill="#7a7a7a"/>
<circle cx="399.19" cy="520.00" r="1.2" fill="#7a7a7a"/>
<circle cx="412.00" cy="512.30" r="1.2" fill="#7a7a7a"/>
<circle cx="432.00" cy="505.00" r="1.2" fill="#7a7a7a"/>
<circle cx="450.00" cy="480.00" r="1.2" fill="#7a7a7a"/>
<path d="M320.60 559.30 V563.30 M319.10 559.30 H322.10 M319.10 563.30 H322.10" stroke="#ea7fae" stroke-width="0.8" fill="none"/>
<path d="M328.21 551.50 V557.50 M326.71 551.50 H329.71 M326.71 557.50 H329.71" stroke="#ea7fae" stroke-width="0.8" fill="none"/>
<path d="M338.35 544.00 V550.00 M336.85 544.00 H339.85 M336.85 550.00 H339.85" stroke="#ea7fae" stroke-width="0.8" fill="none"/>
<path d="M345.95 541.80 V547.80 M344.45 541.80 H347.45 M344.45 547.80 H347.45" stroke="#ea7fae" stroke-width="0.8" fill="none"/>
<path d="M356.09 540.80 V548.80 M354.59 540.80 H357.59 M354.59 548.80 H357.59" stroke="#ea7fae" stroke-width="0.8" fill="none"/>
<path d="M363.70 538.30 V546.30 M362.20 538.30 H365.20 M362.20 546.30 H365.20" stroke="#ea7fae" stroke-width="0.8" fill="none"/>
<path d="M373.84 532.60 V542.60 M372.34 532.60 H375.34 M372.34 542.60 H375.34" stroke="#ea7fae" stroke-width="0.8" fill="none"/>
<path d="M381.44 533.70 V545.70 M379.94 533.70 H382.94 M379.94 545.70 H382.94" stroke="#ea7fae" stroke-width="0.8" fill="none"/>
<path d="M391.58 523.20 V535.20 M390.08 523.20 H393.08 M390.08 535.20 H393.08" stroke="#ea7fae" stroke-width="0.8" fill="none"/>
<path d="M399.19 524.70 V536.70 M397.69 524.70 H400.69 M397.69 536.70 H400.69" stroke="#ea7fae" stroke-width="0.8" fill="none"/>
<polyline points="320.60,561.30 328.21,554.50 338.35,547.00 345.95,544.80 356.09,544.80 363.70,542.30 373.84,537.60 381.44,539.70 391.58,529.20 399.19,530.70" fill="none" stroke="#da3080" stroke-width="1.3" stroke-linejoin="round" />
<circle cx="320.60" cy="561.30" r="1.75" fill="#da3080"/>
<circle cx="328.21" cy="554.50" r="1.75" fill="#da3080"/>
<circle cx="338.35" cy="547.00" r="1.75" fill="#da3080"/>
<circle cx="345.95" cy="544.80" r="1.75" fill="#da3080"/>
<circle cx="356.09" cy="544.80" r="1.75" fill="#da3080"/>
<circle cx="363.70" cy="542.30" r="1.75" fill="#da3080"/>
<circle cx="373.84" cy="537.60" r="1.75" fill="#da3080"/>
<circle cx="381.44" cy="539.70" r="1.75" fill="#da3080"/>
<circle cx="391.58" cy="529.20" r="1.75" fill="#da3080"/>
<circle cx="399.19" cy="530.70" r="1.75" fill="#da3080"/>
<path d="M320.60 559.30 V563.30 M319.10 559.30 H322.10 M319.10 563.30 H322.10" stroke="#6870a8" stroke-width="0.8" fill="none"/>
<path d="M328.21 551.50 V557.50 M326.71 551.50 H329.71 M326.71 557.50 H329.71" stroke="#6870a8" stroke-width="0.8" fill="none"/>
<path d="M338.35 545.00 V553.00 M336.85 545.00 H339.85 M336.85 553.00 H339.85" stroke="#6870a8" stroke-width="0.8" fill="none"/>
<path d="M345.95 540.80 V548.80 M344.45 540.80 H347.45 M344.45 548.80 H347.45" stroke="#6870a8" stroke-width="0.8" fill="none"/>
<path d="M356.09 539.00 V549.00 M354.59 539.00 H357.59 M354.59 549.00 H357.59" stroke="#6870a8" stroke-width="0.8" fill="none"/>
<path d="M363.70 530.00 V542.00 M362.20 530.00 H365.20 M362.20 542.00 H365.20" stroke="#6870a8" stroke-width="0.8" fill="none"/>
<path d="M373.84 516.00 V532.00 M372.34 516.00 H375.34 M372.34 532.00 H375.34" stroke="#6870a8" stroke-width="0.8" fill="none"/>
<path d="M381.44 515.30 V533.30 M379.94 515.30 H382.94 M379.94 533.30 H382.94" stroke="#6870a8" stroke-width="0.8" fill="none"/>
<path d="M391.58 506.90 V526.90 M390.08 506.90 H393.08 M390.08 526.90 H393.08" stroke="#6870a8" stroke-width="0.8" fill="none"/>
<path d="M399.19 502.70 V524.70 M397.69 502.70 H400.69 M397.69 524.70 H400.69" stroke="#6870a8" stroke-width="0.8" fill="none"/>
<polyline points="320.60,561.30 328.21,554.50 338.35,549.00 345.95,544.80 356.09,544.00 363.70,536.00 373.84,524.00 381.44,524.30 391.58,516.90 399.19,513.70" fill="none" stroke="#1d2470" stroke-width="1.3" stroke-linejoin="round" stroke-dasharray="3.5,2.3"/>
<circle cx="320.60" cy="561.30" r="1.75" fill="#1d2470"/>
<circle cx="328.21" cy="554.50" r="1.75" fill="#1d2470"/>
<circle cx="338.35" cy="549.00" r="1.75" fill="#1d2470"/>
<circle cx="345.95" cy="544.80" r="1.75" fill="#1d2470"/>
<circle cx="356.09" cy="544.00" r="1.75" fill="#1d2470"/>
<circle cx="363.70" cy="536.00" r="1.75" fill="#1d2470"/>
<circle cx="373.84" cy="524.00" r="1.75" fill="#1d2470"/>
<circle cx="381.44" cy="524.30" r="1.75" fill="#1d2470"/>
<circle cx="391.58" cy="516.90" r="1.75" fill="#1d2470"/>
<circle cx="399.19" cy="513.70" r="1.75" fill="#1d2470"/>
<path d="M320.60 559.30 V563.30 M319.10 559.30 H322.10 M319.10 563.30 H322.10" stroke="#444444" stroke-width="0.8" fill="none"/>
<path d="M328.21 551.50 V557.50 M326.71 551.50 H329.71 M326.71 557.50 H329.71" stroke="#444444" stroke-width="0.8" fill="none"/>
<path d="M338.35 544.20 V552.20 M336.85 544.20 H339.85 M336.85 552.20 H339.85" stroke="#444444" stroke-width="0.8" fill="none"/>
<path d="M345.95 534.10 V544.10 M344.45 534.10 H347.45 M344.45 544.10 H347.45" stroke="#444444" stroke-width="0.8" fill="none"/>
<path d="M356.09 526.80 V540.80 M354.59 526.80 H357.59 M354.59 540.80 H357.59" stroke="#444444" stroke-width="0.8" fill="none"/>
<path d="M363.70 520.20 V538.20 M362.20 520.20 H365.20 M362.20 538.20 H365.20" stroke="#444444" stroke-width="0.8" fill="none"/>
<path d="M373.84 507.70 V533.70 M372.34 507.70 H375.34 M372.34 533.70 H375.34" stroke="#444444" stroke-width="0.8" fill="none"/>
<path d="M381.44 499.90 V531.90 M379.94 499.90 H382.94 M379.94 531.90 H382.94" stroke="#444444" stroke-width="0.8" fill="none"/>
<path d="M391.58 473.00 V524.00 M390.08 473.00 H393.08 M390.08 524.00 H393.08" stroke="#444444" stroke-width="0.8" fill="none"/>
<path d="M399.19 467.70 V529.30 M397.69 467.70 H400.69 M397.69 529.30 H400.69" stroke="#444444" stroke-width="0.8" fill="none"/>
<polyline points="320.60,561.30 328.21,554.50 338.35,548.20 345.95,539.10 356.09,533.80 363.70,529.20 373.84,520.70 381.44,515.90 391.58,498.50 399.19,498.50" fill="none" stroke="#111111" stroke-width="1.3" stroke-linejoin="round" />
<rect x="318.60" y="559.30" width="4.00" height="4.00" fill="#111111"/>
<rect x="326.21" y="552.50" width="4.00" height="4.00" fill="#111111"/>
<rect x="336.35" y="546.20" width="4.00" height="4.00" fill="#111111"/>
<rect x="343.95" y="537.10" width="4.00" height="4.00" fill="#111111"/>
<rect x="354.09" y="531.80" width="4.00" height="4.00" fill="#111111"/>
<rect x="361.70" y="527.20" width="4.00" height="4.00" fill="#111111"/>
<rect x="371.84" y="518.70" width="4.00" height="4.00" fill="#111111"/>
<rect x="379.44" y="513.90" width="4.00" height="4.00" fill="#111111"/>
<rect x="389.58" y="496.50" width="4.00" height="4.00" fill="#111111"/>
<rect x="397.19" y="496.50" width="4.00" height="4.00" fill="#111111"/>
<line x1="403.80" y1="446.30" x2="415.00" y2="446.30" stroke="#111111" stroke-width="1.45" />
<rect x="407.40" y="444.30" width="4.00" height="4.00" fill="#111111"/>
<text transform="translate(420.50,449.40) scale(0.92,1)" font-size="8.152" text-anchor="start" font-weight="normal" fill="#333" stroke="#333" stroke-width="0.22" >Vehicle</text>
<line x1="403.80" y1="455.80" x2="415.00" y2="455.80" stroke="#1d2470" stroke-width="1.45" stroke-dasharray="2.5,2"/>
<circle cx="409.40" cy="455.80" r="1.8" fill="#1d2470"/>
<text transform="translate(420.50,458.90) scale(0.92,1)" font-size="8.152" text-anchor="start" font-weight="normal" fill="#333" stroke="#333" stroke-width="0.22" >AZD5305 0.03 mg/kg QD</text>
<line x1="403.80" y1="463.00" x2="415.00" y2="463.00" stroke="#7a7a7a" stroke-width="1.45" />
<circle cx="409.40" cy="463.00" r="1.8" fill="#7a7a7a"/>
<text transform="translate(420.50,466.10) scale(0.92,1)" font-size="8.152" text-anchor="start" font-weight="normal" fill="#333" stroke="#333" stroke-width="0.22" >Olaparib 100 mg/kg QD</text>
<line x1="403.80" y1="529.50" x2="415.00" y2="529.50" stroke="#da3080" stroke-width="1.45" />
<circle cx="409.40" cy="529.50" r="1.8" fill="#da3080"/>
<text transform="translate(420.50,532.60) scale(0.92,1)" font-size="8.152" text-anchor="start" font-weight="normal" fill="#333" stroke="#333" stroke-width="0.22" >AZD5305 0.1 mg/kg QD</text>
<line x1="403.80" y1="553.00" x2="415.00" y2="553.00" stroke="#2f4494" stroke-width="1.45" />
<circle cx="409.40" cy="553.00" r="1.8" fill="#2f4494"/>
<text transform="translate(420.50,556.10) scale(0.92,1)" font-size="8.152" text-anchor="start" font-weight="normal" fill="#333" stroke="#333" stroke-width="0.22" >AZD5305 10 mg/kg QD</text>
<line x1="403.80" y1="560.00" x2="415.00" y2="560.00" stroke="#e9632f" stroke-width="1.45" />
<circle cx="409.40" cy="560.00" r="1.8" fill="#e9632f"/>
<text transform="translate(420.50,563.10) scale(0.92,1)" font-size="8.152" text-anchor="start" font-weight="normal" fill="#333" stroke="#333" stroke-width="0.22" >AZD5305 1 mg/kg  QD</text>
</svg></body></html>
